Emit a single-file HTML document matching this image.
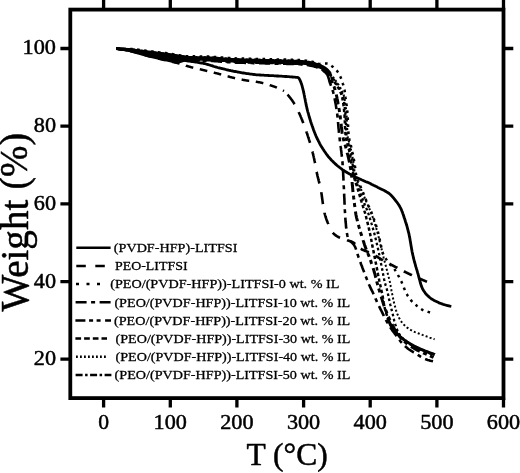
<!DOCTYPE html>
<html><head><meta charset="utf-8"><title>TGA curves</title>
<style>
html,body{margin:0;padding:0;background:#fff;}
body{width:520px;height:473px;overflow:hidden;}
svg{display:block;}
text{font-family:"Liberation Serif","Times New Roman",serif;fill:#000;stroke:#000;stroke-linejoin:round;}
.tick{stroke-width:0.5px;}
.leg{stroke-width:0.28px;}
.ax{stroke-width:0.5px;}
</style></head><body>
<svg width="520" height="473" viewBox="0 0 520 473">
<rect x="0" y="0" width="520" height="473" fill="#fff"/>

<rect x="70.3" y="9.6" width="433.2" height="388.5" fill="none" stroke="#000" stroke-width="3.8"/>
<path d="M103.6,398.1 V407.6 M103.6,9.6 V0 M170.3,398.1 V407.6 M170.3,9.6 V0 M236.9,398.1 V407.6 M236.9,9.6 V0 M303.6,398.1 V407.6 M303.6,9.6 V0 M370.2,398.1 V407.6 M370.2,9.6 V0 M436.9,398.1 V407.6 M436.9,9.6 V0 M503.5,398.1 V407.6 M503.5,9.6 V0 M70.3,359.2 H60.4 M503.5,359.2 H513.3 M70.3,281.6 H60.4 M503.5,281.6 H513.3 M70.3,203.9 H60.4 M503.5,203.9 H513.3 M70.3,126.2 H60.4 M503.5,126.2 H513.3 M70.3,48.5 H60.4 M503.5,48.5 H513.3" stroke="#000" stroke-width="3.3" fill="none"/>
<text class="tick" transform="translate(98.22,429.00) scale(0.9954,1)" font-size="21.7">0</text>
<text class="tick" transform="translate(153.62,429.00) scale(1.0230,1)" font-size="21.7">100</text>
<text class="tick" transform="translate(220.27,429.00) scale(1.0230,1)" font-size="21.7">200</text>
<text class="tick" transform="translate(286.91,429.00) scale(1.0230,1)" font-size="21.7">300</text>
<text class="tick" transform="translate(353.56,429.00) scale(1.0230,1)" font-size="21.7">400</text>
<text class="tick" transform="translate(420.20,429.00) scale(1.0230,1)" font-size="21.7">500</text>
<text class="tick" transform="translate(486.85,429.00) scale(1.0230,1)" font-size="21.7">600</text>
<text class="tick" transform="translate(33.80,365.25) scale(1.0230,1)" font-size="21.7">20</text>
<text class="tick" transform="translate(33.80,287.55) scale(1.0230,1)" font-size="21.7">40</text>
<text class="tick" transform="translate(33.80,209.85) scale(1.0230,1)" font-size="21.7">60</text>
<text class="tick" transform="translate(33.80,132.15) scale(1.0230,1)" font-size="21.7">80</text>
<text class="tick" transform="translate(22.60,54.45) scale(1.0261,1)" font-size="21.7">100</text>
<text class="ax" transform="translate(246.50,465.30) scale(0.9854,1)" font-size="32">T (°C)</text>
<text class="ax" transform="translate(27.6,311.60) rotate(-90) scale(0.9629,1)" font-size="40.6">Weight</text>
<text class="ax" transform="translate(27.2,189.60) rotate(-90) scale(0.9294,1)" font-size="40.6">(%)</text>
<g fill="none" stroke="#000" stroke-linejoin="round">
<path d="M116,47.6 L129,48.1 L148.5,50.4 L167.7,52.7 L177,54.2 L187,55.8 L187,61 L177.3,64 L167.7,61.8 L148.5,57.5 L129,51.9 L116,49.8 Z" fill="#000" stroke="none"/>
<path d="M177.0,57.0 L178.3,57.2 L179.6,57.4 L180.9,57.7 L182.2,57.8 L183.4,58.0 L184.7,58.2 L186.0,58.3 L187.3,58.3 L188.6,58.3 L189.9,58.4 L191.2,58.4 L192.5,58.4 L193.8,58.4 L195.1,58.5 L196.4,58.5 L197.7,58.5 L199.0,58.5 L200.4,58.5 L201.7,58.5 L203.0,58.5 L204.3,58.6 L205.6,58.6 L206.9,58.6 L208.2,58.7 L209.5,58.7 L210.8,58.8 L212.1,58.8 L213.4,58.9 L214.7,59.0 L216.0,59.1 L217.3,59.2 L218.6,59.3 L219.9,59.4 L221.2,59.5 L222.5,59.6 L223.8,59.7 L225.1,59.8 L226.4,59.9 L227.7,60.0 L229.0,60.1 L230.3,60.1 L231.6,60.2 L232.9,60.3 L234.2,60.4 L235.5,60.4 L236.8,60.5 L238.1,60.5 L239.4,60.6 L240.7,60.6 L242.0,60.7 L243.3,60.7 L244.6,60.7 L245.9,60.8 L247.2,60.8 L248.5,60.9 L249.8,60.9 L251.1,60.9 L252.4,61.0 L253.7,61.0 L255.0,61.0 L256.3,61.0 L257.6,61.1 L258.9,61.1 L260.2,61.1 L261.5,61.2 L262.8,61.2 L264.1,61.2 L265.4,61.2 L266.7,61.3 L268.0,61.3 L269.3,61.3 L270.6,61.4 L271.9,61.4 L273.2,61.4 L274.5,61.5 L275.8,61.5 L277.1,61.5 L278.4,61.6 L279.7,61.6 L281.0,61.6 L282.3,61.7 L283.6,61.7 L284.9,61.7 L286.2,61.8 L287.5,61.8 L288.8,61.8 L290.1,61.8 L291.4,61.9 L292.7,61.9 L294.0,62.0 L295.3,62.0 L296.6,62.0 L297.9,62.1 L299.2,62.2 L300.5,62.2 L301.8,62.3 L303.1,62.4 L304.4,62.6 L305.7,62.7 L307.0,62.9 L308.3,63.1 L309.6,63.4 L310.9,63.6 L312.1,63.8 L313.4,64.1 L314.7,64.5 L315.9,64.9 L317.2,65.3 L318.4,65.8 L319.6,66.2 L320.8,66.7 L322.0,67.3 L323.2,67.9 L324.3,68.5 L325.3,69.3 L326.3,70.1 L327.2,71.0 L328.1,72.0 L329.0,73.0" stroke-width="4.6" stroke-linecap="round"/>
<path d="M116.2,48.6 L117.4,48.7 L118.6,48.9 L119.8,49.0 L121.0,49.2 L122.2,49.3 L123.3,49.5 L124.5,49.6 L125.7,49.8 L126.9,50.0 L128.1,50.2 L129.3,50.3 L130.5,50.5 L131.6,50.7 L132.8,50.9 L134.0,51.2 L135.2,51.4 L136.4,51.6 L137.5,51.8 L138.7,52.1 L139.9,52.3 L141.1,52.5 L142.3,52.8 L143.4,53.0 L144.6,53.2 L145.8,53.5 L147.0,53.7 L148.1,53.9 L149.3,54.2 L150.5,54.4 L151.7,54.6 L152.9,54.8 L154.0,55.1 L155.2,55.3 L156.4,55.5 L157.6,55.8 L158.7,56.0 L159.9,56.2 L161.1,56.5 L162.3,56.7 L163.5,56.9 L164.6,57.1 L165.8,57.4 L167.0,57.6 L168.2,57.8 L169.4,58.0 L170.5,58.2 L171.7,58.4 L172.9,58.6 L174.1,58.8 L175.3,59.0 L176.5,59.2 L177.7,59.3 L178.8,59.5 L180.0,59.7 L181.2,59.9 L182.4,60.1 L183.6,60.3 L184.8,60.4 L186.0,60.6 L187.1,60.8 L188.3,61.0 L189.5,61.2 L190.7,61.4 L191.9,61.5 L193.1,61.7 L194.3,61.9 L195.5,62.0 L196.7,62.2 L197.8,62.4 L199.0,62.6 L200.2,62.8 L201.4,63.0 L202.6,63.2 L203.7,63.5 L204.9,63.7 L206.0,64.0 L207.2,64.3 L208.4,64.7 L209.5,65.0 L210.7,65.4 L211.8,65.7 L213.0,66.1 L214.1,66.5 L215.3,66.8 L216.4,67.1 L217.6,67.5 L218.7,67.8 L219.9,68.0 L221.1,68.3 L222.2,68.6 L223.4,68.9 L224.6,69.2 L225.7,69.5 L226.9,69.8 L228.1,70.0 L229.2,70.3 L230.4,70.5 L231.6,70.8 L232.8,71.0 L233.9,71.3 L235.1,71.5 L236.3,71.7 L237.5,72.0 L238.6,72.2 L239.8,72.4 L241.0,72.6 L242.2,72.8 L243.4,73.0 L244.6,73.2 L245.7,73.4 L246.9,73.6 L248.1,73.7 L249.3,73.9 L250.5,74.1 L251.7,74.2 L252.9,74.4 L254.1,74.5 L255.3,74.6 L256.5,74.8 L257.7,74.9 L258.8,74.9 L260.0,75.0 L261.2,75.1 L262.4,75.2 L263.6,75.2 L264.8,75.3 L266.0,75.4 L267.2,75.4 L268.4,75.5 L269.6,75.6 L270.8,75.6 L272.0,75.7 L273.2,75.7 L274.4,75.8 L275.6,75.9 L276.8,76.0 L278.0,76.0 L279.2,76.1 L280.4,76.2 L281.6,76.2 L282.8,76.3 L284.0,76.4 L285.2,76.5 L286.4,76.5 L287.6,76.6 L288.8,76.7 L290.0,76.8 L291.2,76.9 L292.4,77.0 L293.6,77.1 L294.8,77.2 L296.0,77.3 L297.3,77.4 L298.3,77.6 L299.1,78.5 L299.7,79.6 L300.2,80.7 L300.7,81.8 L301.1,82.9 L301.5,84.1 L301.9,85.2 L302.2,86.4 L302.5,87.5 L302.8,88.7 L303.1,89.8 L303.4,91.0 L303.6,92.2 L303.9,93.3 L304.1,94.5 L304.4,95.7 L304.6,96.9 L304.8,98.1 L305.1,99.2 L305.3,100.4 L305.5,101.6 L305.8,102.8 L306.0,104.0 L306.2,105.2 L306.5,106.3 L306.8,107.5 L307.0,108.7 L307.3,109.8 L307.6,111.0 L307.9,112.1 L308.3,113.3 L308.6,114.5 L308.9,115.6 L309.2,116.8 L309.6,117.9 L309.9,119.1 L310.3,120.2 L310.6,121.4 L311.0,122.5 L311.4,123.7 L311.8,124.8 L312.2,126.0 L312.6,127.1 L313.0,128.2 L313.4,129.4 L313.8,130.5 L314.2,131.6 L314.7,132.7 L315.1,133.8 L315.6,134.9 L316.0,136.0 L316.5,137.1 L317.0,138.2 L317.5,139.3 L318.1,140.3 L318.6,141.4 L319.2,142.5 L319.7,143.6 L320.3,144.7 L320.9,145.7 L321.5,146.8 L322.2,147.8 L322.8,148.8 L323.5,149.8 L324.1,150.8 L324.8,151.8 L325.5,152.8 L326.2,153.8 L326.9,154.7 L327.6,155.6 L328.3,156.6 L329.1,157.5 L329.9,158.4 L330.7,159.3 L331.5,160.2 L332.4,161.0 L333.2,161.9 L334.1,162.7 L335.0,163.6 L335.9,164.4 L336.8,165.2 L337.7,166.0 L338.6,166.7 L339.6,167.5 L340.5,168.2 L341.5,168.9 L342.4,169.6 L343.4,170.3 L344.4,170.9 L345.4,171.6 L346.5,172.2 L347.5,172.8 L348.6,173.4 L349.6,174.0 L350.7,174.6 L351.8,175.1 L352.8,175.7 L353.9,176.2 L355.0,176.8 L356.0,177.3 L357.1,177.8 L358.2,178.3 L359.3,178.8 L360.4,179.3 L361.5,179.8 L362.6,180.2 L363.7,180.7 L364.8,181.2 L365.9,181.7 L367.0,182.1 L368.1,182.6 L369.2,183.1 L370.3,183.6 L371.4,184.2 L372.5,184.7 L373.5,185.2 L374.6,185.7 L375.7,186.3 L376.8,186.8 L377.8,187.4 L378.9,187.9 L379.9,188.5 L381.0,189.0 L382.1,189.6 L383.2,190.1 L384.3,190.6 L385.4,191.2 L386.4,191.8 L387.5,192.4 L388.4,193.0 L389.4,193.7 L390.3,194.5 L391.1,195.3 L392.0,196.2 L392.8,197.1 L393.6,198.0 L394.3,199.0 L395.1,199.9 L395.8,200.8 L396.6,201.8 L397.3,202.8 L398.0,203.8 L398.7,204.8 L399.3,205.8 L399.9,206.8 L400.5,207.9 L401.0,208.9 L401.5,210.0 L401.9,211.1 L402.4,212.2 L402.8,213.4 L403.2,214.5 L403.6,215.7 L403.9,216.8 L404.3,217.9 L404.7,219.1 L405.1,220.2 L405.4,221.4 L405.8,222.5 L406.2,223.7 L406.5,224.8 L406.9,226.0 L407.2,227.1 L407.5,228.3 L407.8,229.4 L408.1,230.6 L408.4,231.8 L408.7,232.9 L409.0,234.1 L409.2,235.3 L409.4,236.4 L409.7,237.6 L409.9,238.8 L410.1,240.0 L410.3,241.2 L410.5,242.3 L410.7,243.5 L410.9,244.7 L411.1,245.9 L411.3,247.1 L411.5,248.3 L411.7,249.5 L411.9,250.6 L412.1,251.8 L412.4,253.0 L412.6,254.2 L412.9,255.3 L413.2,256.5 L413.4,257.7 L413.7,258.8 L414.0,260.0 L414.3,261.1 L414.6,262.3 L415.0,263.5 L415.3,264.6 L415.6,265.8 L415.9,266.9 L416.3,268.1 L416.6,269.2 L417.0,270.4 L417.3,271.5 L417.6,272.7 L418.0,273.8 L418.3,275.0 L418.6,276.2 L418.9,277.3 L419.2,278.5 L419.6,279.7 L419.9,280.9 L420.2,282.1 L420.5,283.3 L420.9,284.4 L421.2,285.6 L421.6,286.7 L422.1,287.7 L422.5,288.8 L423.1,289.8 L423.7,290.8 L424.4,291.8 L425.1,292.8 L425.9,293.8 L426.7,294.7 L427.6,295.6 L428.5,296.4 L429.4,297.2 L430.3,298.0 L431.2,298.7 L432.2,299.3 L433.2,299.9 L434.2,300.5 L435.3,301.1 L436.4,301.6 L437.5,302.1 L438.6,302.6 L439.8,303.1 L440.9,303.5 L442.0,303.9 L443.1,304.3 L444.3,304.7 L445.4,305.0 L446.6,305.3 L447.7,305.6 L448.9,305.9 L450.1,306.2 L451.3,306.4" stroke-width="2.8"/>
<path d="M116.2,48.6 L116.6,48.7 L117.1,48.7 L117.5,48.8 L117.9,48.8 L118.4,48.9 L118.8,49.0 L119.2,49.0 L119.6,49.1 L120.1,49.2 L120.5,49.2 L120.9,49.3 L121.4,49.4 L121.8,49.5 L122.2,49.5 L122.7,49.6 L123.1,49.7 L123.5,49.7 L123.9,49.8 L124.4,49.9 L124.8,50.0 L125.2,50.1 L125.6,50.1 L126.1,50.2 L126.5,50.3 L126.9,50.4 L127.3,50.5 L127.8,50.6 L128.2,50.6 L128.6,50.7 L129.0,50.8 L129.5,50.9 L129.9,51.0 L130.3,51.1 L130.7,51.2 L131.2,51.3 L131.6,51.4 L132.0,51.5 L132.4,51.6 L132.9,51.7 L133.3,51.8 L133.7,51.9 L134.1,52.0 L134.5,52.1 L135.0,52.2 L135.4,52.3 L135.8,52.4 L136.2,52.6 L136.6,52.7 L137.1,52.8 L137.5,52.9 L137.9,53.0 L138.3,53.1 L138.7,53.3 L139.1,53.4 L139.6,53.5 L140.0,53.6 L140.4,53.7 L140.8,53.9 L141.2,54.0 L141.7,54.1 L142.1,54.2 L142.5,54.3 L142.9,54.5 L143.3,54.6 L143.7,54.7 L144.2,54.8 L144.6,54.9 L145.0,55.1 L145.4,55.2 L145.8,55.3 L146.3,55.4 L146.7,55.5 L147.1,55.6 L147.5,55.7 L147.9,55.9 L148.4,56.0 L148.8,56.1 L149.2,56.2 L149.6,56.3 L150.0,56.4 L150.5,56.5 L150.9,56.6 L151.3,56.7 L151.7,56.8 L152.1,56.9 L152.6,57.0 L153.0,57.2 L153.4,57.3 L153.8,57.4 L154.3,57.5 L154.7,57.6 L155.1,57.7 L155.5,57.8 L155.9,57.9 L156.4,58.0 L156.8,58.1 L157.2,58.2 L157.6,58.3 L158.0,58.4 L158.5,58.5 L158.9,58.6 L159.3,58.8 L159.7,58.9 L160.2,59.0 L160.6,59.1 L161.0,59.2 L161.4,59.3 L161.8,59.4 L162.3,59.5 L162.7,59.6 L163.1,59.7 L163.5,59.8 L164.0,59.9 L164.4,60.0 L164.8,60.1 L165.2,60.2 L165.6,60.3 L166.1,60.4 L166.5,60.5 L166.9,60.6 L167.3,60.7 L167.8,60.8 L168.2,60.9 L168.6,61.0 L169.0,61.1 L169.4,61.2 L169.9,61.3 L170.3,61.4 L170.7,61.5 L171.1,61.6 L171.6,61.7 L172.0,61.8 L172.4,61.9 L172.8,61.9 L173.3,62.0 L173.7,62.1 L174.1,62.2 L174.5,62.3 L175.0,62.4 L175.4,62.5 L175.8,62.6 L176.2,62.7 L176.7,62.8 L177.1,62.9 L177.5,63.1 L177.9,63.2 L178.3,63.3 L178.7,63.4 L179.2,63.5 L179.6,63.6 L180.0,63.8 L180.4,63.9 L180.8,64.0 L181.2,64.2 L181.7,64.3 L182.1,64.4 L182.5,64.6 L182.9,64.7 L183.3,64.8 L183.7,65.0 L184.1,65.1 L184.6,65.2 L185.0,65.4 L185.4,65.5 L185.8,65.6 L186.2,65.8 L186.6,65.9 L187.0,66.0 L187.5,66.1 L187.9,66.3 L188.3,66.4 L188.7,66.5 L189.1,66.6 L189.5,66.7 L190.0,66.8 L190.4,67.0 L190.8,67.1 L191.2,67.2 L191.6,67.3 L192.1,67.4 L192.5,67.5 L192.9,67.6 L193.3,67.7 L193.8,67.8 L194.2,67.9 L194.6,68.0 L195.0,68.1 L195.4,68.2 L195.9,68.3 L196.3,68.4 L196.7,68.5 L197.1,68.6 L197.6,68.7 L198.0,68.8 L198.4,68.9 L198.8,69.0 L199.3,69.1 L199.7,69.2 L200.1,69.3 L200.5,69.4 L200.9,69.5 L201.4,69.6 L201.8,69.7 L202.2,69.8 L202.6,69.9 L203.1,70.0 L203.5,70.1 L203.9,70.2 L204.3,70.3 L204.7,70.4 L205.2,70.5 L205.6,70.6 L206.0,70.7 L206.4,70.8 L206.9,70.9 L207.3,71.0 L207.7,71.1 L208.1,71.2 L208.6,71.3 L209.0,71.4 L209.4,71.5 L209.8,71.7 L210.2,71.8 L210.7,71.9 L211.1,72.0 L211.5,72.1 L211.9,72.2 L212.4,72.3 L212.8,72.4 L213.2,72.5 L213.6,72.6 L214.0,72.7 L214.5,72.8 L214.9,72.9 L215.3,73.0 L215.7,73.1 L216.1,73.2 L216.6,73.3 L217.0,73.4 L217.4,73.5 L217.8,73.6 L218.3,73.7 L218.7,73.8 L219.1,74.0 L219.5,74.1 L219.9,74.2 L220.4,74.3 L220.8,74.4 L221.2,74.5 L221.6,74.6 L222.0,74.8 L222.5,74.9 L222.9,75.0 L223.3,75.1 L223.7,75.2 L224.1,75.3 L224.5,75.5 L225.0,75.6 L225.4,75.7 L225.8,75.8 L226.2,75.9 L226.6,76.0 L227.1,76.2 L227.5,76.3 L227.9,76.4 L228.3,76.5 L228.7,76.6 L229.2,76.7 L229.6,76.8 L230.0,77.0 L230.4,77.1 L230.8,77.2 L231.3,77.3 L231.7,77.4 L232.1,77.5 L232.5,77.6 L232.9,77.7 L233.4,77.8 L233.8,77.9 L234.2,78.0 L234.6,78.1 L235.1,78.2 L235.5,78.3 L235.9,78.4 L236.3,78.5 L236.8,78.5 L237.2,78.6 L237.6,78.7 L238.0,78.8 L238.5,78.9 L238.9,79.0 L239.3,79.1 L239.7,79.2 L240.2,79.3 L240.6,79.4 L241.0,79.4 L241.4,79.5 L241.9,79.6 L242.3,79.7 L242.7,79.8 L243.1,79.9 L243.6,79.9 L244.0,80.0 L244.4,80.1 L244.9,80.2 L245.3,80.3 L245.7,80.3 L246.1,80.4 L246.6,80.5 L247.0,80.5 L247.4,80.6 L247.9,80.7 L248.3,80.8 L248.7,80.8 L249.1,80.9 L249.6,80.9 L250.0,81.0 L250.4,81.0 L250.9,81.1 L251.3,81.2 L251.7,81.2 L252.2,81.3 L252.6,81.3 L253.0,81.4 L253.5,81.4 L253.9,81.5 L254.3,81.5 L254.8,81.6 L255.2,81.6 L255.6,81.7 L256.1,81.8 L256.5,81.8 L256.9,81.9 L257.3,82.0 L257.8,82.0 L258.2,82.1 L258.6,82.2 L259.0,82.2 L259.5,82.3 L259.9,82.4 L260.3,82.5 L260.7,82.6 L261.2,82.7 L261.6,82.8 L262.0,82.9 L262.4,83.0 L262.9,83.1 L263.3,83.2 L263.7,83.3 L264.1,83.4 L264.5,83.5 L265.0,83.6 L265.4,83.8 L265.8,83.9 L266.2,84.0 L266.6,84.1 L267.1,84.3 L267.5,84.4 L267.9,84.5 L268.3,84.6 L268.7,84.8 L269.1,84.9 L269.6,85.0 L270.0,85.2 L270.4,85.3 L270.8,85.4 L271.2,85.6 L271.6,85.7 L272.0,85.9 L272.4,86.0 L272.8,86.1 L273.3,86.3 L273.7,86.4 L274.1,86.6 L274.5,86.7 L274.9,86.9 L275.3,87.0 L275.7,87.2 L276.1,87.3 L276.5,87.5 L276.9,87.7 L277.3,87.8 L277.7,88.0 L278.1,88.2 L278.5,88.4 L278.9,88.5 L279.3,88.7 L279.7,88.9 L280.1,89.1 L280.5,89.3 L280.9,89.4 L281.3,89.6 L281.7,89.8 L282.0,90.0 L282.4,90.2 L282.8,90.4 L283.2,90.6 L283.6,90.8 L284.0,91.0" stroke-width="2.5" stroke-dasharray="7.7 6.7"/>
<path d="M284.0,91.0 L284.3,91.3 L284.5,91.5 L284.8,91.8 L285.1,92.0 L285.3,92.3 L285.6,92.6 L285.9,92.8 L286.1,93.1 L286.4,93.4 L286.6,93.6 L286.9,93.9 L287.1,94.2 L287.4,94.5 L287.6,94.7 L287.9,95.0 L288.1,95.3 L288.4,95.6 L288.6,95.9 L288.8,96.1 L289.1,96.4 L289.3,96.7 L289.5,97.0 L289.8,97.3 L290.0,97.6 L290.2,97.8 L290.5,98.1 L290.7,98.4 L290.9,98.7 L291.1,99.0 L291.3,99.3 L291.6,99.6 L291.8,99.9 L292.0,100.2 L292.2,100.5 L292.4,100.8 L292.6,101.1 L292.8,101.4 L293.0,101.7 L293.2,102.0 L293.4,102.3 L293.6,102.6 L293.8,102.9 L294.0,103.2 L294.2,103.5 L294.3,103.9 L294.5,104.2 L294.7,104.5 L294.9,104.8 L295.1,105.1 L295.3,105.5 L295.5,105.8 L295.6,106.1 L295.8,106.4 L296.0,106.8 L296.2,107.1 L296.3,107.4 L296.5,107.7 L296.7,108.1 L296.9,108.4 L297.0,108.7 L297.2,109.1 L297.4,109.4 L297.5,109.7 L297.7,110.0 L297.9,110.4 L298.0,110.7 L298.2,111.0 L298.3,111.4 L298.5,111.7 L298.7,112.0 L298.8,112.4 L299.0,112.7 L299.1,113.0 L299.3,113.4 L299.4,113.7 L299.6,114.0 L299.7,114.4 L299.9,114.7 L300.0,115.0 L300.2,115.4 L300.3,115.7 L300.5,116.0 L300.6,116.4 L300.8,116.7 L300.9,117.1 L301.0,117.4 L301.2,117.7 L301.3,118.1 L301.5,118.4 L301.6,118.8 L301.7,119.1 L301.9,119.5 L302.0,119.8 L302.1,120.1 L302.3,120.5 L302.4,120.8 L302.5,121.2 L302.7,121.5 L302.8,121.9 L302.9,122.2 L303.1,122.6 L303.2,122.9 L303.3,123.2 L303.4,123.6 L303.6,123.9 L303.7,124.3 L303.8,124.6 L304.0,125.0 L304.1,125.3 L304.2,125.7 L304.3,126.0 L304.5,126.4 L304.6,126.7 L304.7,127.0 L304.8,127.4 L305.0,127.7 L305.1,128.1 L305.2,128.4 L305.3,128.8 L305.5,129.1 L305.6,129.5 L305.7,129.8 L305.8,130.2 L306.0,130.5 L306.1,130.9 L306.2,131.2 L306.3,131.6 L306.5,131.9 L306.6,132.2 L306.7,132.6 L306.8,132.9 L306.9,133.3 L307.1,133.6 L307.2,134.0 L307.3,134.3 L307.4,134.7 L307.5,135.0 L307.7,135.4 L307.8,135.7 L307.9,136.1 L308.0,136.4 L308.1,136.8 L308.2,137.1 L308.3,137.5 L308.5,137.8 L308.6,138.2 L308.7,138.5 L308.8,138.9 L308.9,139.2 L309.0,139.6 L309.1,139.9 L309.2,140.3 L309.3,140.6 L309.5,141.0 L309.6,141.3 L309.7,141.7 L309.8,142.0 L309.9,142.4 L310.0,142.8 L310.1,143.1 L310.2,143.5 L310.3,143.8 L310.4,144.2 L310.5,144.5 L310.6,144.9 L310.7,145.2 L310.8,145.6 L310.9,145.9 L311.0,146.3 L311.1,146.6 L311.2,147.0 L311.3,147.4 L311.4,147.7 L311.5,148.1 L311.6,148.4 L311.7,148.8 L311.8,149.1 L311.9,149.5 L312.0,149.8 L312.0,150.2 L312.1,150.6 L312.2,150.9 L312.3,151.3 L312.4,151.6 L312.5,152.0 L312.6,152.3 L312.7,152.7 L312.8,153.1 L312.9,153.4 L313.0,153.8 L313.0,154.1 L313.1,154.5 L313.2,154.8 L313.3,155.2 L313.4,155.6 L313.5,155.9 L313.6,156.3 L313.6,156.6 L313.7,157.0 L313.8,157.4 L313.9,157.7 L314.0,158.1 L314.1,158.4 L314.1,158.8 L314.2,159.1 L314.3,159.5 L314.4,159.9 L314.4,160.2 L314.5,160.6 L314.6,160.9 L314.7,161.3 L314.7,161.7 L314.8,162.0 L314.9,162.4 L315.0,162.7 L315.0,163.1 L315.1,163.5 L315.2,163.8 L315.2,164.2 L315.3,164.6 L315.4,164.9 L315.4,165.3 L315.5,165.6 L315.6,166.0 L315.6,166.4 L315.7,166.7 L315.7,167.1 L315.8,167.5 L315.9,167.8 L315.9,168.2 L316.0,168.5 L316.1,168.9 L316.1,169.3 L316.2,169.6 L316.3,170.0 L316.3,170.4 L316.4,170.7 L316.5,171.1 L316.5,171.4 L316.6,171.8 L316.7,172.2 L316.8,172.5 L316.8,172.9 L316.9,173.2 L317.0,173.6 L317.1,174.0 L317.1,174.3 L317.2,174.7 L317.3,175.0 L317.4,175.4 L317.5,175.8 L317.6,176.1 L317.6,176.5 L317.7,176.8 L317.8,177.2 L317.9,177.5 L318.0,177.9 L318.1,178.3 L318.2,178.6 L318.3,179.0 L318.4,179.3 L318.5,179.7 L318.6,180.0 L318.6,180.4 L318.7,180.8 L318.8,181.1 L318.9,181.5 L319.0,181.8 L319.1,182.2 L319.2,182.5 L319.3,182.9 L319.4,183.3 L319.5,183.6 L319.6,184.0 L319.7,184.3 L319.7,184.7 L319.8,185.0 L319.9,185.4 L320.0,185.8 L320.1,186.1 L320.2,186.5 L320.2,186.8 L320.3,187.2 L320.4,187.5 L320.5,187.9 L320.6,188.3 L320.6,188.6 L320.7,189.0 L320.8,189.3 L320.8,189.7 L320.9,190.1 L321.0,190.4 L321.0,190.8 L321.1,191.2 L321.1,191.5 L321.2,191.9 L321.3,192.3 L321.3,192.6 L321.4,193.0 L321.4,193.3 L321.5,193.7 L321.6,194.1 L321.6,194.4 L321.7,194.8 L321.7,195.2 L321.8,195.5 L321.8,195.9 L321.9,196.3 L321.9,196.6 L322.0,197.0 L322.0,197.4 L322.1,197.7 L322.1,198.1 L322.2,198.5 L322.2,198.8 L322.3,199.2 L322.3,199.6 L322.4,199.9 L322.4,200.3 L322.5,200.7 L322.5,201.0 L322.6,201.4 L322.6,201.8 L322.7,202.1 L322.7,202.5 L322.8,202.9 L322.8,203.2 L322.9,203.6 L322.9,204.0 L323.0,204.3 L323.0,204.7 L323.1,205.1 L323.1,205.4 L323.2,205.8 L323.3,206.2 L323.3,206.5 L323.4,206.9 L323.4,207.2 L323.5,207.6 L323.6,208.0 L323.6,208.3 L323.7,208.7 L323.7,209.0 L323.8,209.4 L323.9,209.8 L323.9,210.1 L324.0,210.5 L324.1,210.8 L324.2,211.2 L324.2,211.6 L324.3,211.9 L324.4,212.3 L324.5,212.6 L324.5,213.0 L324.6,213.3 L324.7,213.7 L324.8,214.0 L324.9,214.4 L325.0,214.7 L325.1,215.1 L325.2,215.4 L325.3,215.8 L325.4,216.1 L325.5,216.5 L325.6,216.8 L325.7,217.2 L325.8,217.5 L325.9,217.9 L326.1,218.2 L326.2,218.6 L326.3,218.9 L326.4,219.3 L326.5,219.6 L326.7,220.0 L326.8,220.3 L326.9,220.7 L327.1,221.0 L327.2,221.3 L327.3,221.7 L327.5,222.0 L327.6,222.4 L327.8,222.7 L327.9,223.1 L328.0,223.4 L328.2,223.7 L328.3,224.1 L328.5,224.4 L328.6,224.8 L328.8,225.1 L328.9,225.4 L329.1,225.8 L329.2,226.1 L329.4,226.5 L329.5,226.8 L329.7,227.1 L329.8,227.5 L330.0,227.8 L330.1,228.2 L330.3,228.5" stroke-width="2.6" stroke-dasharray="0 5 12 4"/>
<path d="M330.3,228.5 L330.4,228.8 L330.5,229.1 L330.7,229.3 L330.8,229.6 L330.9,229.9 L331.1,230.1 L331.2,230.4 L331.4,230.7 L331.5,230.9 L331.7,231.2 L331.8,231.4 L332.0,231.6 L332.2,231.9 L332.3,232.1 L332.5,232.3 L332.7,232.6 L332.9,232.8 L333.0,233.0 L333.2,233.2 L333.4,233.4 L333.6,233.6 L333.8,233.8 L334.0,234.0 L334.2,234.2 L334.4,234.4 L334.6,234.5 L334.9,234.7 L335.1,234.9 L335.3,235.1 L335.6,235.3 L335.8,235.4 L336.1,235.6 L336.3,235.8 L336.5,235.9 L336.8,236.1 L337.1,236.2 L337.3,236.4 L337.6,236.5 L337.8,236.7 L338.1,236.8 L338.3,237.0 L338.6,237.1 L338.9,237.2 L339.1,237.4 L339.4,237.5 L339.6,237.6 L339.9,237.7 L340.2,237.8 L340.4,237.9 L340.7,238.0 L341.0,238.1 L341.2,238.2 L341.5,238.3 L341.8,238.4 L342.1,238.5 L342.3,238.6 L342.6,238.7 L342.9,238.8 L343.2,238.9 L343.4,239.0 L343.7,239.1 L344.0,239.2 L344.3,239.3 L344.5,239.4 L344.8,239.5 L345.1,239.6 L345.4,239.7 L345.7,239.8 L345.9,239.9 L346.2,239.9 L346.5,240.0 L346.8,240.1 L347.1,240.2 L347.3,240.3 L347.6,240.4 L347.9,240.5 L348.2,240.5 L348.5,240.6 L348.8,240.7 L349.0,240.8 L349.3,240.9 L349.6,241.0 L349.9,241.1 L350.1,241.2 L350.4,241.3 L350.7,241.4 L351.0,241.5 L351.2,241.6 L351.5,241.7 L351.8,241.8 L352.0,241.9 L352.3,242.0 L352.5,242.1 L352.8,242.2 L353.0,242.4 L353.3,242.5 L353.5,242.6 L353.8,242.8 L354.0,242.9 L354.2,243.1 L354.4,243.3 L354.7,243.4 L354.9,243.6 L355.1,243.8 L355.3,244.0 L355.6,244.2 L355.8,244.4 L356.0,244.6 L356.2,244.8 L356.4,245.0 L356.6,245.2 L356.8,245.4 L357.1,245.6 L357.3,245.8 L357.5,246.0 L357.7,246.2 L357.9,246.5 L358.1,246.7 L358.3,246.9 L358.6,247.1 L358.8,247.3 L359.0,247.5 L359.2,247.6 L359.4,247.8 L359.7,248.0 L359.9,248.2 L360.1,248.4 L360.4,248.5 L360.6,248.7 L360.8,248.8 L361.1,249.0 L361.3,249.1 L361.6,249.2 L361.8,249.4 L362.1,249.5 L362.3,249.6 L362.6,249.8 L362.9,249.9 L363.1,250.0 L363.4,250.1 L363.6,250.2 L363.9,250.3 L364.2,250.5 L364.4,250.6 L364.7,250.7 L365.0,250.8 L365.2,250.9 L365.5,251.0 L365.8,251.1 L366.1,251.2 L366.3,251.3 L366.6,251.4 L366.9,251.5 L367.2,251.6 L367.4,251.7 L367.7,251.9 L368.0,252.0 L368.3,252.1 L368.5,252.2 L368.8,252.3 L369.1,252.4 L369.3,252.5 L369.6,252.6 L369.9,252.7 L370.1,252.9 L370.4,253.0 L370.7,253.1 L370.9,253.2 L371.2,253.3 L371.5,253.5 L371.7,253.6 L372.0,253.7 L372.2,253.9 L372.5,254.0 L372.7,254.1 L373.0,254.3 L373.2,254.4 L373.5,254.6 L373.7,254.7 L374.0,254.9 L374.2,255.0 L374.5,255.1 L374.7,255.3 L375.0,255.4 L375.2,255.6 L375.5,255.7 L375.7,255.9 L376.0,256.0 L376.2,256.2 L376.5,256.3 L376.7,256.5 L377.0,256.6 L377.2,256.8 L377.5,257.0 L377.7,257.1 L378.0,257.3 L378.2,257.4 L378.5,257.6 L378.7,257.7 L378.9,257.9 L379.2,258.0 L379.4,258.2 L379.7,258.3 L379.9,258.5 L380.2,258.6 L380.4,258.8 L380.7,258.9 L380.9,259.1 L381.2,259.2 L381.4,259.4 L381.7,259.5 L381.9,259.7 L382.2,259.8 L382.4,260.0 L382.7,260.1 L382.9,260.2 L383.2,260.4 L383.4,260.5 L383.7,260.7 L383.9,260.8 L384.2,260.9 L384.5,261.1 L384.7,261.2 L385.0,261.4 L385.2,261.5 L385.5,261.6 L385.7,261.8 L386.0,261.9 L386.2,262.1 L386.5,262.2 L386.7,262.3 L387.0,262.5 L387.3,262.6 L387.5,262.8 L387.8,262.9 L388.0,263.0 L388.3,263.2 L388.5,263.3 L388.8,263.4 L389.0,263.6 L389.3,263.7 L389.6,263.8 L389.8,264.0 L390.1,264.1 L390.3,264.3 L390.6,264.4 L390.8,264.5 L391.1,264.7 L391.3,264.8 L391.6,264.9 L391.9,265.1 L392.1,265.2 L392.4,265.3 L392.6,265.5 L392.9,265.6 L393.1,265.7 L393.4,265.9 L393.7,266.0 L393.9,266.1 L394.2,266.3 L394.4,266.4 L394.7,266.5 L394.9,266.7 L395.2,266.8 L395.5,266.9 L395.7,267.1 L396.0,267.2 L396.2,267.3 L396.5,267.5 L396.7,267.6 L397.0,267.7 L397.3,267.9 L397.5,268.0 L397.8,268.1 L398.0,268.3 L398.3,268.4 L398.5,268.5 L398.8,268.7 L399.1,268.8 L399.3,268.9 L399.6,269.1 L399.8,269.2 L400.1,269.3 L400.3,269.5 L400.6,269.6 L400.9,269.7 L401.1,269.9 L401.4,270.0 L401.6,270.1 L401.9,270.3 L402.2,270.4 L402.4,270.5 L402.7,270.7 L402.9,270.8 L403.2,270.9 L403.4,271.1 L403.7,271.2 L404.0,271.3 L404.2,271.5 L404.5,271.6 L404.7,271.7 L405.0,271.9 L405.3,272.0 L405.5,272.1 L405.8,272.2 L406.0,272.4 L406.3,272.5 L406.6,272.6 L406.8,272.8 L407.1,272.9 L407.3,273.0 L407.6,273.1 L407.9,273.3 L408.1,273.4 L408.4,273.5 L408.6,273.6 L408.9,273.8 L409.2,273.9 L409.4,274.0 L409.7,274.1 L409.9,274.3 L410.2,274.4 L410.5,274.5 L410.7,274.6 L411.0,274.8 L411.2,274.9 L411.5,275.0 L411.8,275.1 L412.0,275.2 L412.3,275.4 L412.6,275.5 L412.8,275.6 L413.1,275.7 L413.4,275.9 L413.6,276.0 L413.9,276.1 L414.1,276.2 L414.4,276.3 L414.7,276.5 L414.9,276.6 L415.2,276.7 L415.5,276.8 L415.7,276.9 L416.0,277.0 L416.3,277.2 L416.5,277.3 L416.8,277.4 L417.0,277.5 L417.3,277.6 L417.6,277.8 L417.8,277.9 L418.1,278.0 L418.4,278.1 L418.6,278.2 L418.9,278.3 L419.2,278.4 L419.4,278.6 L419.7,278.7 L420.0,278.8 L420.2,278.9 L420.5,279.0 L420.8,279.1 L421.0,279.3 L421.3,279.4 L421.6,279.5 L421.8,279.6 L422.1,279.7 L422.4,279.8 L422.6,279.9 L422.9,280.0 L423.2,280.2 L423.4,280.3 L423.7,280.4 L424.0,280.5 L424.2,280.6 L424.5,280.7 L424.8,280.8 L425.0,280.9 L425.3,281.0 L425.6,281.2 L425.8,281.3 L426.1,281.4 L426.4,281.5 L426.7,281.6 L426.9,281.7 L427.2,281.8 L427.5,281.9 L427.7,282.0 L428.0,282.1 L428.3,282.2 L428.5,282.4 L428.8,282.5 L429.1,282.6 L429.3,282.7 L429.6,282.8 L429.9,282.9 L430.2,283.0 L430.4,283.1 L430.7,283.2" stroke-width="2.6" stroke-dasharray="0 5 9 2.5"/>
<path d="M116.2,48.6 L117.4,48.6 L118.7,48.6 L119.9,48.6 L121.2,48.7 L122.4,48.7 L123.7,48.7 L124.9,48.8 L126.1,48.8 L127.4,48.9 L128.6,48.9 L129.9,49.0 L131.1,49.0 L132.3,49.1 L133.6,49.2 L134.8,49.4 L136.0,49.5 L137.3,49.6 L138.5,49.8 L139.7,50.0 L141.0,50.1 L142.2,50.3 L143.4,50.4 L144.7,50.6 L145.9,50.8 L147.1,50.9 L148.4,51.1 L149.6,51.2 L150.9,51.4 L152.1,51.5 L153.3,51.6 L154.6,51.8 L155.8,51.9 L157.0,52.1 L158.3,52.2 L159.5,52.4 L160.7,52.5 L162.0,52.6 L163.2,52.8 L164.4,53.0 L165.7,53.1 L166.9,53.3 L168.1,53.5 L169.3,53.6 L170.6,53.8 L171.8,54.1 L173.0,54.3 L174.3,54.5 L175.5,54.7 L176.7,54.9 L177.9,55.0 L179.2,55.2 L180.4,55.4 L181.6,55.6 L182.9,55.8 L184.1,56.0 L185.3,56.1 L186.6,56.2 L187.8,56.2 L189.0,56.3 L190.3,56.3 L191.5,56.3 L192.8,56.3 L194.0,56.3 L195.2,56.4 L196.5,56.4 L197.7,56.4 L199.0,56.4 L200.2,56.4 L201.5,56.4 L202.7,56.4 L204.0,56.5 L205.2,56.5 L206.4,56.5 L207.7,56.5 L208.9,56.6 L210.2,56.7 L211.4,56.7 L212.6,56.8 L213.9,56.9 L215.1,56.9 L216.4,57.0 L217.6,57.1 L218.8,57.2 L220.1,57.3 L221.3,57.4 L222.6,57.5 L223.8,57.6 L225.0,57.7 L226.3,57.8 L227.5,57.9 L228.8,57.9 L230.0,58.0 L231.2,58.1 L232.5,58.2 L233.7,58.3 L235.0,58.3 L236.2,58.4 L237.4,58.4 L238.7,58.5 L239.9,58.5 L241.2,58.5 L242.4,58.6 L243.7,58.6 L244.9,58.7 L246.1,58.7 L247.4,58.7 L248.6,58.8 L249.9,58.8 L251.1,58.8 L252.3,58.9 L253.6,58.9 L254.8,58.9 L256.1,58.9 L257.3,59.0 L258.6,59.0 L259.8,59.0 L261.0,59.1 L262.3,59.1 L263.5,59.1 L264.8,59.1 L266.0,59.2 L267.3,59.2 L268.5,59.2 L269.7,59.2 L271.0,59.3 L272.2,59.3 L273.5,59.3 L274.7,59.4 L276.0,59.4 L277.2,59.4 L278.4,59.5 L279.7,59.5 L280.9,59.5 L282.2,59.6 L283.4,59.6 L284.7,59.6 L285.9,59.6 L287.1,59.7 L288.4,59.7 L289.6,59.7 L290.9,59.8 L292.1,59.8 L293.4,59.8 L294.6,59.9 L295.8,59.9 L297.1,60.0 L298.3,60.0 L299.6,60.1 L300.8,60.1 L302.0,60.2 L303.3,60.4 L304.5,60.5 L305.8,60.7 L307.0,60.8 L308.2,61.0 L309.4,61.2 L310.7,61.4 L311.9,61.7 L313.1,62.0 L314.3,62.4 L315.4,62.9 L316.6,63.4 L317.8,63.8 L319.0,63.9 L320.2,63.9 L321.5,63.8 L322.8,63.7 L324.0,63.6 L325.3,63.6 L326.5,63.5 L327.6,63.6 L328.8,64.0 L329.9,64.6 L331.0,65.4 L332.0,66.2 L333.0,66.9 L333.9,67.7 L334.9,68.5 L335.8,69.4 L336.6,70.4 L337.4,71.3 L338.0,72.3 L338.7,73.4 L339.3,74.5 L339.8,75.6 L340.4,76.8 L340.9,77.9 L341.3,79.1 L341.8,80.2 L342.2,81.4 L342.6,82.6 L342.9,83.8 L343.3,85.0 L343.6,86.2 L343.9,87.4 L344.2,88.6 L344.5,89.8 L344.7,91.0 L344.9,92.2 L345.0,93.5 L345.2,94.7 L345.4,95.9 L345.5,97.2 L345.7,98.4 L345.8,99.6 L346.0,100.9 L346.2,102.1 L346.3,103.3 L346.5,104.6 L346.7,105.8 L346.8,107.0 L347.0,108.3 L347.1,109.5 L347.2,110.7 L347.3,112.0 L347.5,113.2 L347.6,114.5 L347.6,115.7 L347.7,116.9 L347.8,118.2 L347.8,119.4 L347.9,120.7 L348.0,121.9 L348.0,123.2 L348.0,124.4 L348.1,125.6 L348.1,126.9 L348.2,128.1 L348.2,129.4 L348.3,130.6 L348.4,131.9 L348.5,133.1 L348.5,134.3 L348.7,135.5 L348.8,136.8 L349.0,138.0 L349.3,139.2 L349.5,140.4 L349.8,141.6 L350.2,142.8 L350.5,144.0 L350.8,145.2 L351.1,146.4 L351.5,147.7 L351.8,148.9 L352.0,150.1 L352.3,151.3 L352.5,152.5 L352.8,153.7 L353.0,155.0 L353.2,156.2 L353.5,157.4 L353.7,158.6 L353.9,159.8 L354.1,161.1 L354.4,162.3 L354.6,163.5 L354.8,164.7 L354.9,166.0 L355.1,167.2 L355.3,168.4 L355.4,169.7 L355.6,170.9 L355.7,172.2 L355.9,173.4 L356.1,174.6 L356.4,175.8 L356.7,177.0 L357.0,178.1 L357.4,179.3 L357.9,180.5 L358.4,181.6 L358.8,182.8 L359.4,183.9 L359.9,185.1 L360.4,186.2 L360.9,187.4 L361.4,188.5 L361.9,189.7 L362.3,190.8 L362.8,192.0 L363.2,193.1 L363.7,194.3 L364.2,195.5 L364.6,196.6 L365.1,197.8 L365.6,198.9 L366.0,200.1 L366.5,201.2 L367.0,202.3 L367.5,203.5 L368.0,204.6 L368.5,205.8 L369.0,206.9 L369.5,208.0 L370.0,209.2 L370.5,210.3 L371.0,211.5 L371.5,212.6 L371.9,213.8 L372.3,214.9 L372.8,216.1 L373.2,217.2 L373.6,218.4 L374.1,219.6 L374.5,220.8 L374.9,221.9 L375.3,223.1 L375.7,224.3 L376.1,225.5 L376.4,226.7 L376.8,227.9 L377.1,229.0 L377.5,230.2 L377.8,231.4 L378.1,232.6 L378.4,233.8 L378.7,235.1 L379.0,236.3 L379.3,237.5 L379.5,238.7 L379.8,239.9 L380.1,241.1 L380.4,242.3 L380.6,243.5 L380.9,244.8 L381.1,246.0 L381.3,247.2 L381.6,248.5 L381.9,249.7 L382.2,250.9 L382.5,252.0 L382.9,253.2 L383.4,254.3 L383.9,255.4 L384.5,256.6 L385.1,257.7 L385.8,258.7 L386.5,259.8 L387.2,260.8 L387.9,261.8 L388.6,262.8 L389.5,263.7 L390.4,264.6 L391.3,265.5 L392.2,266.4 L393.0,267.3 L393.8,268.2 L394.5,269.2 L395.2,270.3 L395.8,271.3 L396.5,272.4 L397.1,273.5 L397.7,274.6 L398.3,275.7 L398.9,276.7 L399.5,277.8 L400.1,278.9 L400.6,280.1 L401.2,281.2 L401.7,282.3 L402.2,283.4 L402.7,284.6 L403.2,285.7 L403.6,286.9 L404.0,288.1 L404.5,289.2 L404.9,290.4 L405.4,291.5 L405.9,292.6 L406.5,293.7 L407.2,294.8 L407.8,295.9 L408.5,296.9 L409.2,297.9 L409.9,298.9 L410.7,299.9 L411.5,300.9 L412.4,301.8 L413.2,302.7 L414.1,303.5 L415.1,304.3 L416.0,305.1 L417.0,305.9 L418.0,306.6 L419.0,307.4 L420.0,308.1 L421.0,308.9 L422.1,309.6 L423.1,310.2 L424.3,310.7 L425.4,311.1 L426.6,311.4 L427.8,311.8 L429.0,312.1 L430.2,312.5 L431.4,313.0 L432.5,313.4 L433.7,313.8" stroke-width="2.5" stroke-dasharray="2.6 4.4"/>
<path d="M116.2,48.6 L117.5,48.7 L118.9,48.9 L120.2,49.0 L121.5,49.2 L122.9,49.4 L124.2,49.6 L125.5,49.8 L126.9,49.9 L128.2,50.2 L129.5,50.4 L130.8,50.6 L132.1,50.9 L133.5,51.1 L134.8,51.4 L136.1,51.7 L137.4,52.0 L138.7,52.3 L140.0,52.6 L141.3,52.9 L142.6,53.3 L143.9,53.6 L145.2,53.8 L146.6,54.1 L147.9,54.4 L149.2,54.6 L150.5,54.9 L151.8,55.1 L153.2,55.3 L154.5,55.5 L155.8,55.7 L157.1,56.0 L158.5,56.2 L159.8,56.4 L161.1,56.6 L162.4,56.8 L163.8,57.0 L165.1,57.2 L166.4,57.4 L167.8,57.6 L169.1,57.8 L170.4,58.0 L171.7,58.3 L173.0,58.5 L174.4,58.7 L175.7,58.9 L177.0,59.1 L178.4,59.3 L179.7,59.5 L181.0,59.7 L182.3,59.9 L183.7,60.1 L185.0,60.3 L186.3,60.4 L187.7,60.4 L189.0,60.5 L190.4,60.5 L191.7,60.5 L193.0,60.5 L194.4,60.5 L195.7,60.6 L197.1,60.6 L198.4,60.6 L199.8,60.6 L201.1,60.6 L202.5,60.6 L203.8,60.7 L205.1,60.7 L206.5,60.7 L207.8,60.8 L209.2,60.8 L210.5,60.9 L211.8,60.9 L213.2,61.0 L214.5,61.1 L215.9,61.2 L217.2,61.3 L218.5,61.4 L219.9,61.5 L221.2,61.6 L222.6,61.7 L223.9,61.8 L225.2,61.9 L226.6,62.0 L227.9,62.1 L229.3,62.2 L230.6,62.3 L231.9,62.4 L233.3,62.4 L234.6,62.5 L236.0,62.6 L237.3,62.6 L238.6,62.7 L240.0,62.7 L241.3,62.7 L242.7,62.8 L244.0,62.8 L245.3,62.9 L246.7,62.9 L248.0,62.9 L249.4,63.0 L250.7,63.0 L252.1,63.0 L253.4,63.1 L254.7,63.1 L256.1,63.1 L257.4,63.2 L258.8,63.2 L260.1,63.2 L261.5,63.3 L262.8,63.3 L264.1,63.3 L265.5,63.4 L266.8,63.4 L268.2,63.4 L269.5,63.4 L270.9,63.5 L272.2,63.5 L273.5,63.5 L274.9,63.6 L276.2,63.6 L277.6,63.6 L278.9,63.7 L280.2,63.7 L281.6,63.7 L282.9,63.8 L284.3,63.8 L285.6,63.8 L287.0,63.9 L288.3,63.9 L289.7,63.9 L291.0,64.0 L292.3,64.0 L293.7,64.0 L295.0,64.1 L296.4,64.1 L297.7,64.2 L299.0,64.3 L300.4,64.3 L301.7,64.4 L303.1,64.5 L304.4,64.7 L305.7,64.8 L307.1,65.0 L308.4,65.2 L309.7,65.5 L311.0,65.7 L312.3,66.0 L313.6,66.3 L314.9,66.7 L316.2,67.1 L317.5,67.5 L318.7,68.0 L320.0,68.5 L321.2,69.1 L322.4,69.7 L323.4,70.5 L324.4,71.5 L325.4,72.4 L326.3,73.4 L327.1,74.5 L327.8,75.6 L328.2,76.8 L328.6,78.1 L329.0,79.4 L329.3,80.8 L329.7,82.1 L330.1,83.4 L330.6,84.6 L331.1,85.9 L331.6,87.1 L332.1,88.4 L332.5,89.6 L332.8,90.9 L333.2,92.2 L333.5,93.5 L333.8,94.8 L334.1,96.2 L334.4,97.5 L334.7,98.8 L334.9,100.1 L335.2,101.4 L335.4,102.7 L335.7,104.1 L335.9,105.4 L336.1,106.7 L336.3,108.0 L336.5,109.4 L336.7,110.7 L336.9,112.0 L337.1,113.4 L337.3,114.7 L337.4,116.0 L337.6,117.4 L337.7,118.7 L337.8,120.0 L338.0,121.4 L338.1,122.7 L338.2,124.0 L338.3,125.4 L338.4,126.7 L338.5,128.1 L338.7,129.4 L338.8,130.7 L338.9,132.1 L339.0,133.4 L339.2,134.7 L339.3,136.1 L339.5,137.4 L339.7,138.7 L339.8,140.1 L340.0,141.4 L340.2,142.7 L340.4,144.1 L340.6,145.4 L340.7,146.7 L340.9,148.1 L341.0,149.4 L341.2,150.7 L341.4,152.1 L341.5,153.4 L341.7,154.7 L341.8,156.1 L342.0,157.4 L342.1,158.7 L342.2,160.1 L342.4,161.4 L342.5,162.7 L342.6,164.1 L342.7,165.4 L342.8,166.8 L342.9,168.1 L343.0,169.4 L343.0,170.8 L343.1,172.1 L343.2,173.4 L343.2,174.8 L343.3,176.1 L343.4,177.5 L343.4,178.8 L343.5,180.2 L343.6,181.5 L343.6,182.8 L343.7,184.2 L343.7,185.5 L343.8,186.9 L343.9,188.2 L343.9,189.5 L344.0,190.9 L344.1,192.2 L344.1,193.6 L344.2,194.9 L344.2,196.3 L344.3,197.6 L344.4,198.9 L344.4,200.3 L344.5,201.6 L344.5,203.0 L344.6,204.3 L344.6,205.7 L344.7,207.0 L344.8,208.3 L344.8,209.7 L344.9,211.0 L345.0,212.4 L345.1,213.7 L345.1,215.0 L345.2,216.4 L345.3,217.7 L345.4,219.0 L345.5,220.4 L345.6,221.8 L345.8,223.2 L345.9,224.5 L346.0,225.9 L346.1,227.3 L346.3,228.7 L346.5,230.1 L346.7,231.4 L346.9,232.8 L347.1,234.1 L347.3,235.3 L347.6,236.5 L347.9,237.7 L348.3,238.8 L349.1,239.9 L350.0,240.9 L351.0,241.8 L352.1,242.8 L353.1,243.8 L354.0,244.8 L354.6,246.0 L355.2,247.1 L355.7,248.4 L356.1,249.6 L356.5,250.9 L356.9,252.2 L357.3,253.5 L357.7,254.8 L358.2,256.1 L358.6,257.4 L359.1,258.7 L359.5,259.9 L360.0,261.2 L360.5,262.5 L360.9,263.7 L361.4,265.0 L361.9,266.2 L362.3,267.5 L362.8,268.7 L363.3,270.0 L363.8,271.2 L364.3,272.5 L364.8,273.7 L365.2,275.0 L365.7,276.3 L366.2,277.5 L366.7,278.8 L367.2,280.0 L367.7,281.2 L368.2,282.5 L368.7,283.7 L369.2,285.0 L369.8,286.2 L370.3,287.4 L370.9,288.6 L371.5,289.8 L372.1,291.0 L372.7,292.2 L373.3,293.5 L373.8,294.7 L374.4,295.9 L374.9,297.1 L375.4,298.4 L376.0,299.6 L376.5,300.8 L377.0,302.1 L377.6,303.3 L378.2,304.5 L378.8,305.7 L379.4,306.9 L380.0,308.1 L380.6,309.3 L381.2,310.5 L381.8,311.7 L382.4,312.9 L383.0,314.1 L383.6,315.3 L384.1,316.5 L384.7,317.7 L385.4,318.9 L386.0,320.1 L386.7,321.3 L387.3,322.4 L388.0,323.6 L388.7,324.7 L389.4,325.9 L390.1,327.0 L390.8,328.2 L391.6,329.3 L392.3,330.4 L393.1,331.5 L393.9,332.5 L394.7,333.6 L395.6,334.7 L396.4,335.8 L397.2,336.8 L398.0,337.9 L398.8,339.0 L399.6,340.1 L400.4,341.2 L401.2,342.2 L402.1,343.2 L403.0,344.2 L404.0,345.1 L405.0,346.0 L406.0,347.0 L407.0,347.8 L408.0,348.7 L409.1,349.5 L410.2,350.2 L411.3,350.9 L412.5,351.6 L413.7,352.3 L414.9,352.9 L416.0,353.6 L417.2,354.3 L418.3,355.1 L419.4,355.8 L420.5,356.6 L421.7,357.3 L422.8,358.0 L424.0,358.5 L425.2,359.0 L426.5,359.5 L427.7,359.9 L429.0,360.3 L430.3,360.7 L431.7,361.0 L433.0,361.3" stroke-width="2.6" stroke-dasharray="11 4.5 4 4.5"/>
<path d="M116.2,48.6 L117.5,48.7 L118.8,48.8 L120.2,49.0 L121.5,49.1 L122.8,49.3 L124.1,49.4 L125.4,49.6 L126.8,49.7 L128.1,49.9 L129.4,50.1 L130.7,50.3 L132.0,50.5 L133.3,50.8 L134.6,51.0 L135.9,51.3 L137.2,51.6 L138.5,51.9 L139.8,52.1 L141.1,52.4 L142.4,52.7 L143.7,53.0 L145.0,53.3 L146.3,53.5 L147.6,53.8 L148.9,54.0 L150.2,54.2 L151.5,54.4 L152.8,54.7 L154.1,54.9 L155.5,55.1 L156.8,55.3 L158.1,55.5 L159.4,55.6 L160.7,55.8 L162.0,56.0 L163.3,56.2 L164.7,56.4 L166.0,56.6 L167.3,56.8 L168.6,57.0 L169.9,57.3 L171.2,57.5 L172.5,57.7 L173.8,57.9 L175.1,58.1 L176.4,58.3 L177.8,58.5 L179.1,58.7 L180.4,58.9 L181.7,59.1 L183.0,59.3 L184.3,59.5 L185.7,59.6 L187.0,59.7 L188.3,59.7 L189.6,59.8 L190.9,59.8 L192.3,59.8 L193.6,59.8 L194.9,59.8 L196.3,59.9 L197.6,59.9 L198.9,59.9 L200.2,59.9 L201.6,59.9 L202.9,59.9 L204.2,60.0 L205.6,60.0 L206.9,60.0 L208.2,60.1 L209.5,60.1 L210.9,60.2 L212.2,60.3 L213.5,60.3 L214.8,60.4 L216.2,60.5 L217.5,60.6 L218.8,60.7 L220.1,60.8 L221.4,60.9 L222.8,61.0 L224.1,61.1 L225.4,61.2 L226.7,61.3 L228.1,61.4 L229.4,61.5 L230.7,61.6 L232.0,61.7 L233.4,61.7 L234.7,61.8 L236.0,61.9 L237.3,61.9 L238.7,62.0 L240.0,62.0 L241.3,62.0 L242.6,62.1 L244.0,62.1 L245.3,62.2 L246.6,62.2 L248.0,62.2 L249.3,62.3 L250.6,62.3 L251.9,62.3 L253.3,62.4 L254.6,62.4 L255.9,62.4 L257.2,62.5 L258.6,62.5 L259.9,62.5 L261.2,62.6 L262.6,62.6 L263.9,62.6 L265.2,62.6 L266.5,62.7 L267.9,62.7 L269.2,62.7 L270.5,62.8 L271.8,62.8 L273.2,62.8 L274.5,62.9 L275.8,62.9 L277.1,62.9 L278.5,63.0 L279.8,63.0 L281.1,63.0 L282.5,63.1 L283.8,63.1 L285.1,63.1 L286.4,63.2 L287.8,63.2 L289.1,63.2 L290.4,63.3 L291.8,63.3 L293.1,63.3 L294.4,63.4 L295.7,63.4 L297.1,63.5 L298.4,63.5 L299.7,63.6 L301.0,63.7 L302.3,63.8 L303.7,63.9 L305.0,64.1 L306.3,64.2 L307.6,64.4 L309.0,64.6 L310.3,64.9 L311.6,65.1 L312.8,65.4 L314.1,65.7 L315.4,66.1 L316.7,66.5 L317.9,67.0 L319.2,67.5 L320.4,68.0 L321.5,68.7 L322.6,69.4 L323.6,70.3 L324.5,71.2 L325.5,72.2 L326.4,73.2 L327.2,74.3 L328.0,75.3 L328.8,76.4 L329.5,77.5 L330.2,78.6 L330.9,79.8 L331.5,81.0 L332.1,82.2 L332.6,83.4 L333.2,84.6 L333.7,85.8 L334.2,87.0 L334.6,88.3 L335.0,89.5 L335.4,90.8 L335.7,92.1 L336.0,93.4 L336.3,94.7 L336.6,96.0 L336.9,97.3 L337.1,98.6 L337.4,99.9 L337.6,101.2 L337.9,102.5 L338.1,103.8 L338.4,105.1 L338.6,106.4 L338.8,107.7 L339.1,109.0 L339.3,110.4 L339.5,111.7 L339.7,113.0 L339.9,114.3 L340.1,115.6 L340.3,116.9 L340.4,118.2 L340.6,119.6 L340.7,120.9 L340.9,122.2 L341.0,123.5 L341.2,124.8 L341.3,126.2 L341.5,127.5 L341.6,128.8 L341.8,130.1 L342.0,131.4 L342.1,132.7 L342.3,134.1 L342.6,135.4 L342.8,136.6 L343.1,137.9 L343.4,139.2 L343.8,140.5 L344.1,141.8 L344.5,143.1 L344.9,144.3 L345.3,145.6 L345.7,146.9 L346.0,148.2 L346.4,149.5 L346.7,150.7 L347.0,152.0 L347.3,153.3 L347.7,154.6 L348.0,155.9 L348.3,157.2 L348.6,158.5 L348.9,159.8 L349.2,161.1 L349.5,162.4 L349.7,163.7 L350.0,165.0 L350.2,166.3 L350.4,167.6 L350.7,168.9 L350.9,170.2 L351.1,171.5 L351.2,172.8 L351.4,174.1 L351.6,175.5 L351.7,176.8 L351.8,178.1 L351.9,179.4 L352.0,180.7 L352.1,182.1 L352.2,183.4 L352.3,184.7 L352.4,186.0 L352.6,187.4 L352.7,188.7 L352.8,190.0 L352.9,191.3 L353.1,192.6 L353.2,194.0 L353.4,195.3 L353.6,196.6 L353.7,197.9 L353.9,199.2 L354.1,200.5 L354.2,201.9 L354.4,203.2 L354.5,204.5 L354.7,205.8 L354.9,207.1 L355.0,208.5 L355.2,209.8 L355.4,211.1 L355.6,212.4 L355.8,213.7 L356.0,215.0 L356.3,216.3 L356.5,217.6 L356.9,218.9 L357.2,220.2 L357.5,221.5 L357.9,222.8 L358.2,224.0 L358.6,225.3 L358.9,226.6 L359.3,227.9 L359.7,229.2 L360.0,230.4 L360.4,231.7 L360.8,233.0 L361.2,234.2 L361.6,235.5 L362.0,236.8 L362.4,238.0 L362.8,239.3 L363.2,240.6 L363.6,241.8 L364.0,243.1 L364.4,244.4 L364.8,245.6 L365.3,246.9 L365.7,248.1 L366.2,249.3 L366.7,250.6 L367.2,251.8 L367.7,253.0 L368.2,254.3 L368.7,255.5 L369.2,256.7 L369.7,258.0 L370.1,259.2 L370.6,260.5 L371.0,261.7 L371.4,263.0 L371.9,264.2 L372.3,265.5 L372.7,266.8 L373.1,268.0 L373.5,269.3 L373.9,270.6 L374.2,271.8 L374.6,273.1 L375.0,274.4 L375.3,275.7 L375.6,277.0 L376.0,278.2 L376.3,279.5 L376.6,280.8 L376.9,282.1 L377.3,283.4 L377.6,284.7 L378.0,285.9 L378.4,287.2 L378.7,288.5 L379.1,289.8 L379.5,291.0 L379.9,292.3 L380.3,293.6 L380.7,294.8 L381.0,296.1 L381.4,297.4 L381.8,298.7 L382.2,299.9 L382.6,301.2 L383.0,302.5 L383.4,303.7 L383.8,305.0 L384.2,306.2 L384.7,307.5 L385.1,308.7 L385.6,310.0 L386.1,311.2 L386.6,312.4 L387.1,313.7 L387.6,314.9 L388.2,316.1 L388.7,317.3 L389.2,318.5 L389.8,319.7 L390.4,320.9 L390.9,322.1 L391.5,323.3 L392.1,324.5 L392.7,325.7 L393.4,326.9 L394.0,328.0 L394.7,329.2 L395.4,330.3 L396.1,331.5 L396.8,332.6 L397.5,333.7 L398.3,334.8 L399.1,335.8 L399.9,336.9 L400.7,337.9 L401.6,338.8 L402.6,339.8 L403.5,340.7 L404.5,341.6 L405.5,342.5 L406.5,343.4 L407.6,344.2 L408.6,345.0 L409.7,345.7 L410.8,346.4 L412.0,347.1 L413.1,347.8 L414.3,348.5 L415.4,349.1 L416.6,349.8 L417.8,350.4 L419.0,351.0 L420.2,351.6 L421.4,352.1 L422.6,352.6 L423.8,353.2 L425.0,353.7 L426.2,354.2 L427.5,354.8 L428.7,355.3 L429.9,355.9 L431.1,356.4 L432.3,356.9 L433.5,357.5" stroke-width="3.0" stroke-dasharray="10 3.7 4 3.5 4 4.5"/>
<path d="M116.2,48.6 L117.5,48.7 L118.9,48.8 L120.2,48.9 L121.5,49.0 L122.8,49.1 L124.2,49.2 L125.5,49.4 L126.8,49.5 L128.1,49.7 L129.5,49.8 L130.8,50.0 L132.1,50.2 L133.4,50.4 L134.7,50.6 L136.0,50.9 L137.3,51.1 L138.6,51.4 L139.9,51.6 L141.2,51.9 L142.6,52.1 L143.9,52.4 L145.2,52.6 L146.5,52.9 L147.8,53.1 L149.1,53.3 L150.4,53.5 L151.7,53.7 L153.1,53.9 L154.4,54.1 L155.7,54.3 L157.0,54.5 L158.3,54.6 L159.6,54.8 L161.0,55.0 L162.3,55.2 L163.6,55.4 L164.9,55.6 L166.2,55.8 L167.5,56.0 L168.9,56.2 L170.2,56.4 L171.5,56.6 L172.8,56.8 L174.1,57.1 L175.4,57.3 L176.7,57.5 L178.1,57.7 L179.4,57.9 L180.7,58.1 L182.0,58.3 L183.3,58.5 L184.7,58.6 L186.0,58.8 L187.3,58.8 L188.6,58.8 L190.0,58.9 L191.3,58.9 L192.6,58.9 L193.9,58.9 L195.3,59.0 L196.6,59.0 L197.9,59.0 L199.3,59.0 L200.6,59.0 L201.9,59.0 L203.3,59.0 L204.6,59.1 L205.9,59.1 L207.3,59.1 L208.6,59.2 L209.9,59.2 L211.2,59.3 L212.6,59.4 L213.9,59.5 L215.2,59.5 L216.6,59.6 L217.9,59.7 L219.2,59.8 L220.5,59.9 L221.9,60.0 L223.2,60.1 L224.5,60.2 L225.9,60.3 L227.2,60.4 L228.5,60.5 L229.8,60.6 L231.2,60.7 L232.5,60.8 L233.8,60.9 L235.2,60.9 L236.5,61.0 L237.8,61.0 L239.1,61.1 L240.5,61.1 L241.8,61.2 L243.1,61.2 L244.5,61.2 L245.8,61.3 L247.1,61.3 L248.4,61.4 L249.8,61.4 L251.1,61.4 L252.4,61.5 L253.8,61.5 L255.1,61.5 L256.4,61.6 L257.8,61.6 L259.1,61.6 L260.4,61.6 L261.8,61.7 L263.1,61.7 L264.4,61.7 L265.7,61.8 L267.1,61.8 L268.4,61.8 L269.7,61.8 L271.1,61.9 L272.4,61.9 L273.7,61.9 L275.1,62.0 L276.4,62.0 L277.7,62.0 L279.1,62.1 L280.4,62.1 L281.7,62.1 L283.0,62.2 L284.4,62.2 L285.7,62.2 L287.0,62.3 L288.4,62.3 L289.7,62.3 L291.0,62.4 L292.4,62.4 L293.7,62.4 L295.0,62.5 L296.4,62.5 L297.7,62.6 L299.0,62.7 L300.3,62.7 L301.7,62.8 L303.0,62.9 L304.3,63.1 L305.6,63.2 L307.0,63.4 L308.3,63.6 L309.6,63.9 L310.9,64.1 L312.2,64.3 L313.5,64.6 L314.8,65.0 L316.1,65.4 L317.3,65.8 L318.6,66.3 L319.8,66.8 L321.0,67.4 L322.1,68.1 L323.2,68.9 L324.2,69.7 L325.2,70.6 L326.2,71.5 L327.1,72.5 L328.0,73.5 L328.9,74.5 L329.7,75.6 L330.6,76.6 L331.4,77.6 L332.2,78.7 L333.0,79.8 L333.7,80.9 L334.5,82.0 L335.2,83.1 L336.0,84.2 L336.7,85.3 L337.5,86.4 L338.1,87.6 L338.8,88.7 L339.3,89.9 L339.9,91.1 L340.5,92.3 L341.0,93.6 L341.5,94.8 L341.9,96.1 L342.2,97.4 L342.4,98.6 L342.7,99.9 L342.9,101.2 L343.1,102.6 L343.3,103.9 L343.5,105.2 L343.7,106.5 L343.8,107.9 L344.0,109.2 L344.1,110.5 L344.2,111.9 L344.4,113.2 L344.5,114.5 L344.6,115.8 L344.6,117.2 L344.7,118.5 L344.8,119.8 L344.8,121.2 L344.9,122.5 L344.9,123.8 L345.0,125.2 L345.0,126.5 L345.1,127.8 L345.1,129.2 L345.2,130.5 L345.3,131.8 L345.4,133.1 L345.5,134.5 L345.6,135.8 L345.8,137.1 L346.0,138.4 L346.3,139.7 L346.6,141.0 L347.0,142.3 L347.3,143.6 L347.7,144.8 L348.1,146.1 L348.4,147.4 L348.7,148.7 L349.0,150.0 L349.3,151.3 L349.5,152.6 L349.8,153.9 L350.0,155.3 L350.2,156.6 L350.5,157.9 L350.7,159.2 L350.9,160.5 L351.1,161.8 L351.4,163.1 L351.6,164.4 L351.8,165.7 L352.1,167.1 L352.3,168.4 L352.5,169.7 L352.7,171.0 L353.0,172.3 L353.2,173.6 L353.5,174.9 L353.8,176.2 L354.1,177.5 L354.5,178.8 L354.8,180.0 L355.2,181.3 L355.6,182.6 L356.0,183.9 L356.5,185.1 L356.9,186.4 L357.3,187.7 L357.7,188.9 L358.1,190.2 L358.4,191.5 L358.8,192.8 L359.2,194.0 L359.6,195.3 L360.0,196.6 L360.4,197.9 L360.7,199.1 L361.1,200.4 L361.5,201.7 L361.9,202.9 L362.3,204.2 L362.7,205.5 L363.1,206.8 L363.5,208.0 L363.9,209.3 L364.3,210.6 L364.7,211.8 L365.1,213.1 L365.4,214.4 L365.8,215.7 L366.1,217.0 L366.4,218.3 L366.8,219.5 L367.1,220.8 L367.4,222.1 L367.7,223.4 L368.0,224.7 L368.4,226.0 L368.7,227.3 L368.9,228.6 L369.2,229.9 L369.5,231.2 L369.8,232.5 L370.1,233.8 L370.3,235.1 L370.6,236.4 L370.9,237.7 L371.1,239.0 L371.4,240.3 L371.6,241.6 L371.8,243.0 L372.1,244.3 L372.3,245.6 L372.6,246.9 L372.8,248.2 L373.1,249.5 L373.4,250.8 L373.6,252.1 L373.9,253.4 L374.1,254.7 L374.4,256.0 L374.7,257.3 L374.9,258.6 L375.2,259.9 L375.4,261.2 L375.7,262.5 L376.0,263.8 L376.2,265.2 L376.5,266.5 L376.8,267.8 L377.0,269.1 L377.3,270.4 L377.5,271.7 L377.8,273.0 L378.0,274.3 L378.3,275.6 L378.6,276.9 L378.8,278.2 L379.1,279.5 L379.3,280.8 L379.6,282.1 L379.9,283.4 L380.2,284.7 L380.5,286.0 L380.7,287.3 L381.0,288.6 L381.3,289.9 L381.6,291.2 L381.9,292.5 L382.2,293.8 L382.4,295.1 L382.7,296.4 L382.9,297.7 L383.1,299.1 L383.3,300.4 L383.5,301.7 L383.7,303.0 L384.0,304.3 L384.2,305.6 L384.5,306.9 L384.8,308.2 L385.1,309.5 L385.5,310.8 L385.9,312.1 L386.3,313.3 L386.7,314.6 L387.1,315.9 L387.5,317.1 L388.0,318.4 L388.5,319.6 L388.9,320.9 L389.4,322.1 L390.0,323.4 L390.5,324.6 L391.1,325.8 L391.7,326.9 L392.4,328.0 L393.2,329.1 L394.0,330.2 L394.9,331.2 L395.8,332.2 L396.7,333.2 L397.6,334.1 L398.6,335.0 L399.5,336.0 L400.5,336.8 L401.5,337.7 L402.6,338.6 L403.6,339.4 L404.7,340.2 L405.8,341.0 L406.9,341.7 L408.0,342.5 L409.1,343.2 L410.2,343.9 L411.4,344.5 L412.5,345.2 L413.7,345.8 L414.9,346.4 L416.1,347.0 L417.3,347.6 L418.5,348.2 L419.7,348.7 L420.9,349.2 L422.2,349.8 L423.4,350.3 L424.6,350.8 L425.9,351.2 L427.1,351.7 L428.4,352.2 L429.6,352.7 L430.8,353.2 L432.1,353.6 L433.3,354.1 L434.6,354.5" stroke-width="2.5" stroke-dasharray="3.4 2.4"/>
<path d="M388.0,318.0 L388.0,318.2 L388.1,318.3 L388.1,318.5 L388.2,318.6 L388.2,318.8 L388.2,318.9 L388.3,319.1 L388.3,319.2 L388.4,319.4 L388.4,319.5 L388.5,319.7 L388.5,319.8 L388.6,320.0 L388.6,320.1 L388.7,320.3 L388.7,320.4 L388.8,320.6 L388.8,320.7 L388.9,320.9 L388.9,321.0 L389.0,321.2 L389.0,321.3 L389.1,321.5 L389.1,321.6 L389.2,321.7 L389.2,321.9 L389.3,322.0 L389.4,322.2 L389.4,322.3 L389.5,322.5 L389.5,322.6 L389.6,322.8 L389.7,322.9 L389.7,323.0 L389.8,323.2 L389.8,323.3 L389.9,323.5 L390.0,323.6 L390.0,323.7 L390.1,323.9 L390.2,324.0 L390.2,324.2 L390.3,324.3 L390.3,324.4 L390.4,324.6 L390.5,324.7 L390.5,324.9 L390.6,325.0 L390.7,325.1 L390.8,325.3 L390.8,325.4 L390.9,325.5 L391.0,325.7 L391.0,325.8 L391.1,325.9 L391.2,326.1 L391.2,326.2 L391.3,326.3 L391.4,326.5 L391.5,326.6 L391.5,326.7 L391.6,326.9 L391.7,327.0 L391.7,327.1 L391.8,327.2 L391.9,327.4 L392.0,327.5 L392.1,327.6 L392.1,327.8 L392.2,327.9 L392.3,328.0 L392.4,328.1 L392.5,328.3 L392.6,328.4 L392.7,328.5 L392.7,328.7 L392.8,328.8 L392.9,328.9 L393.0,329.0 L393.1,329.2 L393.2,329.3 L393.3,329.4 L393.4,329.5 L393.5,329.7 L393.6,329.8 L393.7,329.9 L393.8,330.0 L393.9,330.2 L394.0,330.3 L394.1,330.4 L394.2,330.5 L394.3,330.6 L394.4,330.8 L394.5,330.9 L394.6,331.0 L394.7,331.1 L394.8,331.2 L394.9,331.4 L395.0,331.5 L395.1,331.6 L395.2,331.7 L395.3,331.8 L395.4,332.0 L395.5,332.1 L395.6,332.2 L395.7,332.3 L395.8,332.4 L395.9,332.5 L396.0,332.6 L396.1,332.8 L396.2,332.9 L396.3,333.0 L396.4,333.1 L396.5,333.2 L396.7,333.3 L396.8,333.4 L396.9,333.5 L397.0,333.7 L397.1,333.8 L397.2,333.9 L397.3,334.0 L397.4,334.1 L397.5,334.2 L397.6,334.3 L397.7,334.4 L397.8,334.5 L397.9,334.6 L398.0,334.7 L398.2,334.9 L398.3,335.0 L398.4,335.1 L398.5,335.2 L398.6,335.3 L398.7,335.4 L398.8,335.5 L398.9,335.6 L399.0,335.7 L399.2,335.8 L399.3,335.9 L399.4,336.0 L399.5,336.1 L399.6,336.2 L399.7,336.3 L399.9,336.4 L400.0,336.5 L400.1,336.6 L400.2,336.7 L400.3,336.8 L400.4,336.9 L400.6,337.0 L400.7,337.1 L400.8,337.2 L400.9,337.3 L401.0,337.4 L401.2,337.5 L401.3,337.6 L401.4,337.7 L401.5,337.8 L401.6,337.9 L401.8,338.0 L401.9,338.1 L402.0,338.2 L402.1,338.3 L402.3,338.4 L402.4,338.5 L402.5,338.6 L402.6,338.7 L402.7,338.8 L402.9,338.9 L403.0,339.0 L403.1,339.1 L403.2,339.2 L403.4,339.2 L403.5,339.3 L403.6,339.4 L403.7,339.5 L403.9,339.6 L404.0,339.7 L404.1,339.8 L404.2,339.9 L404.4,340.0 L404.5,340.1 L404.6,340.2 L404.7,340.3 L404.9,340.3 L405.0,340.4 L405.1,340.5 L405.2,340.6 L405.4,340.7 L405.5,340.8 L405.6,340.9 L405.7,341.0 L405.9,341.1 L406.0,341.1 L406.1,341.2 L406.3,341.3 L406.4,341.4 L406.5,341.5 L406.6,341.6 L406.8,341.7 L406.9,341.7 L407.0,341.8 L407.1,341.9 L407.3,342.0 L407.4,342.1 L407.5,342.2 L407.7,342.2 L407.8,342.3 L407.9,342.4 L408.0,342.5 L408.2,342.6 L408.3,342.7 L408.4,342.8 L408.6,342.8 L408.7,342.9 L408.8,343.0 L409.0,343.1 L409.1,343.2 L409.2,343.2 L409.4,343.3 L409.5,343.4 L409.6,343.5 L409.8,343.6 L409.9,343.6 L410.0,343.7 L410.2,343.8 L410.3,343.9 L410.4,344.0 L410.6,344.0 L410.7,344.1 L410.8,344.2 L411.0,344.3 L411.1,344.4 L411.2,344.4 L411.4,344.5 L411.5,344.6 L411.6,344.7 L411.8,344.7 L411.9,344.8 L412.0,344.9 L412.2,345.0 L412.3,345.1 L412.4,345.1 L412.6,345.2 L412.7,345.3 L412.8,345.4 L413.0,345.4 L413.1,345.5 L413.3,345.6 L413.4,345.6 L413.5,345.7 L413.7,345.8 L413.8,345.9 L413.9,345.9 L414.1,346.0 L414.2,346.1 L414.3,346.2 L414.5,346.2 L414.6,346.3 L414.8,346.4 L414.9,346.4 L415.0,346.5 L415.2,346.6 L415.3,346.7 L415.4,346.7 L415.6,346.8 L415.7,346.9 L415.9,346.9 L416.0,347.0 L416.1,347.1 L416.3,347.1 L416.4,347.2 L416.5,347.3 L416.7,347.3 L416.8,347.4 L417.0,347.5 L417.1,347.5 L417.2,347.6 L417.4,347.7 L417.5,347.7 L417.7,347.8 L417.8,347.9 L417.9,347.9 L418.1,348.0 L418.2,348.1 L418.4,348.1 L418.5,348.2 L418.6,348.2 L418.8,348.3 L418.9,348.4 L419.1,348.4 L419.2,348.5 L419.3,348.6 L419.5,348.6 L419.6,348.7 L419.8,348.7 L419.9,348.8 L420.0,348.9 L420.2,348.9 L420.3,349.0 L420.5,349.1 L420.6,349.1 L420.8,349.2 L420.9,349.2 L421.0,349.3 L421.2,349.4 L421.3,349.4 L421.5,349.5 L421.6,349.5 L421.8,349.6 L421.9,349.6 L422.0,349.7 L422.2,349.8 L422.3,349.8 L422.5,349.9 L422.6,349.9 L422.8,350.0 L422.9,350.1 L423.0,350.1 L423.2,350.2 L423.3,350.2 L423.5,350.3 L423.6,350.4 L423.8,350.4 L423.9,350.5 L424.0,350.5 L424.2,350.6 L424.3,350.6 L424.5,350.7 L424.6,350.8 L424.8,350.8 L424.9,350.9 L425.1,350.9 L425.2,351.0 L425.3,351.0 L425.5,351.1 L425.6,351.2 L425.8,351.2 L425.9,351.3 L426.1,351.3 L426.2,351.4 L426.4,351.4 L426.5,351.5 L426.6,351.5 L426.8,351.6 L426.9,351.7 L427.1,351.7 L427.2,351.8 L427.4,351.8 L427.5,351.9 L427.6,351.9 L427.8,352.0 L427.9,352.1 L428.1,352.1 L428.2,352.2 L428.4,352.2 L428.5,352.3 L428.7,352.3 L428.8,352.4 L428.9,352.4 L429.1,352.5 L429.2,352.6 L429.4,352.6 L429.5,352.7 L429.7,352.7 L429.8,352.8 L430.0,352.8 L430.1,352.9 L430.2,352.9 L430.4,353.0 L430.5,353.0 L430.7,353.1 L430.8,353.1 L431.0,353.2 L431.1,353.3 L431.3,353.3 L431.4,353.4 L431.5,353.4 L431.7,353.5 L431.8,353.5 L432.0,353.6 L432.1,353.6 L432.3,353.7 L432.4,353.7 L432.6,353.8 L432.7,353.8 L432.9,353.9 L433.0,353.9 L433.1,354.0 L433.3,354.0 L433.4,354.1 L433.6,354.1 L433.7,354.2 L433.9,354.2 L434.0,354.3 L434.2,354.3 L434.3,354.4 L434.5,354.4 L434.6,354.5" stroke-width="3.0"/>
<path d="M116.2,48.6 L117.5,48.6 L118.9,48.7 L120.2,48.8 L121.5,48.9 L122.8,48.9 L124.2,49.0 L125.5,49.1 L126.8,49.2 L128.1,49.4 L129.5,49.5 L130.8,49.6 L132.1,49.8 L133.4,49.9 L134.7,50.1 L136.0,50.3 L137.4,50.6 L138.7,50.8 L140.0,51.0 L141.3,51.2 L142.6,51.4 L143.9,51.7 L145.2,51.9 L146.5,52.1 L147.9,52.3 L149.2,52.5 L150.5,52.7 L151.8,52.9 L153.1,53.0 L154.4,53.2 L155.8,53.4 L157.1,53.6 L158.4,53.7 L159.7,53.9 L161.0,54.1 L162.4,54.2 L163.7,54.4 L165.0,54.6 L166.3,54.8 L167.6,55.0 L168.9,55.2 L170.2,55.4 L171.6,55.6 L172.9,55.8 L174.2,56.1 L175.5,56.3 L176.8,56.5 L178.1,56.7 L179.4,56.9 L180.7,57.1 L182.1,57.3 L183.4,57.5 L184.7,57.6 L186.0,57.8 L187.3,57.8 L188.7,57.8 L190.0,57.9 L191.3,57.9 L192.7,57.9 L194.0,57.9 L195.3,58.0 L196.6,58.0 L198.0,58.0 L199.3,58.0 L200.6,58.0 L202.0,58.0 L203.3,58.0 L204.6,58.1 L206.0,58.1 L207.3,58.1 L208.6,58.2 L209.9,58.2 L211.3,58.3 L212.6,58.4 L213.9,58.5 L215.2,58.5 L216.6,58.6 L217.9,58.7 L219.2,58.8 L220.6,58.9 L221.9,59.0 L223.2,59.1 L224.5,59.2 L225.9,59.3 L227.2,59.4 L228.5,59.5 L229.8,59.6 L231.2,59.7 L232.5,59.8 L233.8,59.9 L235.1,59.9 L236.5,60.0 L237.8,60.0 L239.1,60.1 L240.5,60.1 L241.8,60.2 L243.1,60.2 L244.4,60.2 L245.8,60.3 L247.1,60.3 L248.4,60.4 L249.8,60.4 L251.1,60.4 L252.4,60.5 L253.7,60.5 L255.1,60.5 L256.4,60.6 L257.7,60.6 L259.1,60.6 L260.4,60.6 L261.7,60.7 L263.0,60.7 L264.4,60.7 L265.7,60.8 L267.0,60.8 L268.4,60.8 L269.7,60.8 L271.0,60.9 L272.4,60.9 L273.7,60.9 L275.0,61.0 L276.3,61.0 L277.7,61.0 L279.0,61.1 L280.3,61.1 L281.7,61.1 L283.0,61.2 L284.3,61.2 L285.6,61.2 L287.0,61.3 L288.3,61.3 L289.6,61.3 L291.0,61.4 L292.3,61.4 L293.6,61.4 L295.0,61.5 L296.3,61.5 L297.6,61.6 L298.9,61.6 L300.3,61.7 L301.6,61.8 L302.9,61.9 L304.2,62.1 L305.6,62.2 L306.9,62.4 L308.2,62.6 L309.5,62.8 L310.8,63.1 L312.1,63.3 L313.4,63.6 L314.7,64.0 L316.0,64.4 L317.3,64.8 L318.5,65.3 L319.7,65.8 L320.8,66.5 L322.0,67.2 L323.0,68.0 L324.1,68.8 L325.1,69.7 L326.1,70.5 L327.0,71.5 L328.0,72.5 L328.9,73.4 L329.7,74.4 L330.6,75.4 L331.5,76.5 L332.3,77.5 L333.1,78.6 L333.9,79.6 L334.6,80.7 L335.4,81.8 L336.1,82.9 L336.9,84.0 L337.6,85.1 L338.4,86.3 L339.0,87.4 L339.7,88.6 L340.3,89.7 L340.9,90.9 L341.4,92.2 L342.0,93.4 L342.4,94.7 L342.8,95.9 L343.1,97.2 L343.4,98.5 L343.6,99.8 L343.9,101.1 L344.1,102.4 L344.3,103.7 L344.5,105.0 L344.7,106.3 L344.8,107.7 L345.0,109.0 L345.1,110.3 L345.2,111.7 L345.3,113.0 L345.4,114.3 L345.5,115.6 L345.6,117.0 L345.7,118.3 L345.8,119.6 L345.8,121.0 L345.9,122.3 L345.9,123.6 L346.0,125.0 L346.0,126.3 L346.1,127.6 L346.1,129.0 L346.2,130.3 L346.3,131.6 L346.3,132.9 L346.4,134.2 L346.6,135.5 L346.7,136.9 L347.0,138.2 L347.2,139.4 L347.6,140.7 L347.9,142.0 L348.3,143.3 L348.6,144.6 L349.0,145.9 L349.3,147.2 L349.7,148.5 L350.0,149.8 L350.2,151.1 L350.5,152.4 L350.7,153.7 L351.0,155.0 L351.2,156.3 L351.5,157.6 L351.7,158.9 L351.9,160.2 L352.2,161.5 L352.4,162.9 L352.6,164.2 L352.8,165.5 L352.9,166.8 L353.1,168.1 L353.2,169.5 L353.4,170.8 L353.6,172.1 L353.7,173.4 L353.9,174.7 L354.2,176.0 L354.5,177.3 L354.9,178.5 L355.4,179.8 L355.8,181.0 L356.3,182.3 L356.8,183.5 L357.4,184.7 L357.9,186.0 L358.4,187.2 L358.9,188.5 L359.4,189.7 L359.8,191.0 L360.3,192.2 L360.7,193.5 L361.1,194.7 L361.6,196.0 L362.0,197.2 L362.5,198.5 L362.9,199.7 L363.4,201.0 L363.9,202.2 L364.3,203.5 L364.8,204.7 L365.4,205.9 L365.9,207.2 L366.4,208.4 L366.9,209.6 L367.3,210.9 L367.8,212.1 L368.3,213.3 L368.7,214.6 L369.1,215.9 L369.5,217.1 L369.9,218.4 L370.3,219.6 L370.7,220.9 L371.1,222.2 L371.5,223.5 L371.9,224.7 L372.3,226.0 L372.6,227.3 L373.0,228.6 L373.3,229.9 L373.7,231.1 L374.0,232.4 L374.4,233.7 L374.7,235.0 L375.0,236.3 L375.3,237.6 L375.7,238.9 L376.0,240.2 L376.3,241.5 L376.6,242.8 L376.9,244.0 L377.2,245.3 L377.5,246.6 L377.8,247.9 L378.1,249.2 L378.3,250.5 L378.6,251.8 L378.9,253.1 L379.2,254.4 L379.4,255.7 L379.7,257.0 L380.0,258.3 L380.2,259.6 L380.5,261.0 L380.7,262.3 L381.0,263.6 L381.3,264.9 L381.5,266.2 L381.8,267.5 L382.1,268.8 L382.3,270.1 L382.6,271.4 L382.8,272.7 L383.1,274.0 L383.3,275.3 L383.6,276.6 L383.9,277.9 L384.1,279.2 L384.4,280.5 L384.7,281.8 L385.0,283.1 L385.4,284.4 L385.7,285.6 L386.1,286.9 L386.5,288.2 L386.9,289.5 L387.2,290.8 L387.5,292.1 L387.8,293.3 L388.1,294.6 L388.4,295.9 L388.6,297.2 L388.9,298.5 L389.2,299.8 L389.5,301.1 L389.8,302.4 L390.1,303.7 L390.4,305.0 L390.8,306.3 L391.1,307.6 L391.4,308.9 L391.7,310.2 L392.1,311.5 L392.4,312.8 L392.7,314.0 L393.0,315.3 L393.3,316.6 L393.6,317.9 L393.9,319.2 L394.2,320.5 L394.6,321.8 L394.9,323.1 L395.3,324.4 L395.7,325.6 L396.1,326.9 L396.5,328.2 L397.0,329.4 L397.5,330.6 L398.0,331.9 L398.6,333.1 L399.3,334.2 L400.0,335.3 L400.8,336.3 L401.7,337.4 L402.6,338.4 L403.5,339.3 L404.5,340.2 L405.5,341.1 L406.5,341.9 L407.6,342.7 L408.7,343.4 L409.8,344.2 L411.0,344.8 L412.2,345.5 L413.3,346.1 L414.5,346.8 L415.7,347.4 L416.9,347.9 L418.1,348.5 L419.3,349.0 L420.5,349.5 L421.8,350.0 L423.0,350.5 L424.3,351.0 L425.5,351.5 L426.7,352.0 L427.9,352.6 L429.2,353.1 L430.4,353.6 L431.6,354.2 L432.8,354.7 L434.0,355.3" stroke-width="2.3" stroke-dasharray="2.6 2.6"/>
<path d="M116.2,48.6 L117.5,48.6 L118.8,48.6 L120.1,48.7 L121.4,48.7 L122.7,48.8 L124.0,48.9 L125.3,48.9 L126.6,49.0 L127.9,49.1 L129.1,49.2 L130.4,49.2 L131.7,49.4 L133.0,49.5 L134.3,49.6 L135.6,49.8 L136.9,50.0 L138.2,50.2 L139.4,50.3 L140.7,50.5 L142.0,50.7 L143.3,50.9 L144.6,51.1 L145.9,51.3 L147.1,51.5 L148.4,51.7 L149.7,51.8 L151.0,52.0 L152.3,52.1 L153.6,52.3 L154.9,52.4 L156.1,52.6 L157.4,52.8 L158.7,52.9 L160.0,53.1 L161.3,53.2 L162.6,53.4 L163.9,53.6 L165.1,53.7 L166.4,53.9 L167.7,54.1 L169.0,54.3 L170.3,54.5 L171.5,54.7 L172.8,54.9 L174.1,55.1 L175.4,55.4 L176.7,55.6 L177.9,55.7 L179.2,55.9 L180.5,56.2 L181.8,56.4 L183.1,56.5 L184.4,56.7 L185.7,56.8 L186.9,56.9 L188.2,56.9 L189.5,57.0 L190.8,57.0 L192.1,57.0 L193.4,57.0 L194.7,57.0 L196.0,57.1 L197.3,57.1 L198.6,57.1 L199.9,57.1 L201.2,57.1 L202.5,57.1 L203.8,57.2 L205.1,57.2 L206.4,57.2 L207.7,57.2 L209.0,57.3 L210.3,57.4 L211.6,57.4 L212.9,57.5 L214.1,57.6 L215.4,57.7 L216.7,57.7 L218.0,57.8 L219.3,57.9 L220.6,58.0 L221.9,58.1 L223.2,58.2 L224.5,58.3 L225.8,58.4 L227.1,58.5 L228.4,58.6 L229.7,58.7 L231.0,58.8 L232.3,58.9 L233.5,58.9 L234.8,59.0 L236.1,59.1 L237.4,59.1 L238.7,59.2 L240.0,59.2 L241.3,59.2 L242.6,59.3 L243.9,59.3 L245.2,59.4 L246.5,59.4 L247.8,59.4 L249.1,59.5 L250.4,59.5 L251.7,59.5 L253.0,59.6 L254.3,59.6 L255.6,59.6 L256.9,59.7 L258.2,59.7 L259.4,59.7 L260.7,59.7 L262.0,59.8 L263.3,59.8 L264.6,59.8 L265.9,59.9 L267.2,59.9 L268.5,59.9 L269.8,59.9 L271.1,60.0 L272.4,60.0 L273.7,60.0 L275.0,60.1 L276.3,60.1 L277.6,60.1 L278.9,60.2 L280.2,60.2 L281.5,60.2 L282.8,60.3 L284.1,60.3 L285.4,60.3 L286.7,60.4 L288.0,60.4 L289.3,60.4 L290.6,60.5 L291.9,60.5 L293.1,60.5 L294.4,60.6 L295.7,60.6 L297.0,60.7 L298.3,60.7 L299.6,60.8 L300.9,60.9 L302.2,61.0 L303.5,61.1 L304.8,61.2 L306.1,61.4 L307.4,61.6 L308.6,61.8 L309.9,62.0 L311.2,62.2 L312.5,62.5 L313.7,62.8 L315.0,63.1 L316.2,63.5 L317.5,64.0 L318.6,64.4 L319.8,65.0 L320.9,65.6 L322.0,66.4 L323.1,67.1 L324.1,67.9 L325.1,68.7 L326.1,69.6 L327.0,70.5 L328.0,71.4 L328.9,72.3 L329.8,73.2 L330.7,74.2 L331.5,75.2 L332.3,76.2 L333.1,77.2 L333.9,78.2 L334.7,79.3 L335.4,80.3 L336.2,81.4 L336.9,82.5 L337.7,83.5 L338.4,84.6 L339.1,85.7 L339.8,86.8 L340.4,87.9 L341.0,89.1 L341.6,90.2 L342.2,91.4 L342.7,92.6 L343.2,93.8 L343.7,95.0 L344.0,96.3 L344.3,97.5 L344.6,98.7 L344.8,100.0 L345.0,101.3 L345.2,102.6 L345.4,103.8 L345.6,105.1 L345.8,106.4 L345.9,107.7 L346.1,109.0 L346.2,110.3 L346.3,111.6 L346.4,112.9 L346.5,114.2 L346.6,115.5 L346.7,116.8 L346.8,118.1 L346.9,119.4 L346.9,120.7 L347.0,122.0 L347.0,123.3 L347.1,124.6 L347.1,125.9 L347.2,127.2 L347.2,128.5 L347.3,129.8 L347.3,131.1 L347.4,132.4 L347.5,133.6 L347.6,134.9 L347.7,136.2 L347.9,137.5 L348.2,138.7 L348.5,140.0 L348.8,141.3 L349.1,142.5 L349.5,143.8 L349.8,145.0 L350.2,146.3 L350.5,147.5 L350.8,148.8 L351.1,150.1 L351.4,151.3 L351.6,152.6 L351.9,153.9 L352.1,155.2 L352.4,156.4 L352.6,157.7 L352.8,159.0 L353.1,160.3 L353.3,161.5 L353.5,162.8 L353.7,164.1 L353.9,165.4 L354.0,166.7 L354.2,168.0 L354.3,169.3 L354.4,170.6 L354.5,171.9 L354.7,173.1 L354.9,174.4 L355.1,175.6 L355.4,176.9 L355.8,178.1 L356.3,179.3 L356.8,180.5 L357.3,181.7 L357.9,182.9 L358.4,184.1 L359.0,185.2 L359.6,186.4 L360.2,187.6 L360.8,188.8 L361.3,190.0 L361.8,191.2 L362.3,192.3 L362.8,193.5 L363.3,194.7 L363.8,195.9 L364.4,197.1 L364.9,198.3 L365.4,199.5 L365.9,200.7 L366.4,201.9 L366.9,203.1 L367.4,204.2 L368.0,205.4 L368.5,206.6 L369.0,207.8 L369.5,209.0 L370.0,210.2 L370.5,211.4 L371.0,212.6 L371.4,213.8 L371.9,215.0 L372.3,216.2 L372.8,217.5 L373.2,218.7 L373.6,219.9 L374.1,221.1 L374.5,222.4 L374.9,223.6 L375.3,224.8 L375.6,226.1 L376.0,227.3 L376.4,228.6 L376.7,229.8 L377.1,231.0 L377.4,232.3 L377.7,233.6 L378.0,234.8 L378.4,236.1 L378.7,237.3 L379.0,238.6 L379.3,239.9 L379.6,241.1 L379.9,242.4 L380.2,243.6 L380.5,244.9 L380.8,246.1 L381.1,247.4 L381.5,248.7 L381.8,249.9 L382.1,251.2 L382.4,252.4 L382.7,253.7 L383.0,255.0 L383.3,256.2 L383.6,257.5 L384.0,258.7 L384.3,260.0 L384.6,261.2 L384.9,262.5 L385.3,263.7 L385.6,265.0 L385.9,266.3 L386.2,267.5 L386.5,268.8 L386.9,270.0 L387.2,271.3 L387.5,272.5 L387.8,273.8 L388.1,275.0 L388.5,276.3 L388.8,277.6 L389.1,278.8 L389.4,280.1 L389.7,281.3 L390.0,282.6 L390.2,283.9 L390.5,285.1 L390.7,286.4 L391.0,287.7 L391.2,289.0 L391.4,290.2 L391.7,291.5 L391.9,292.8 L392.2,294.1 L392.5,295.3 L392.7,296.6 L393.0,297.9 L393.2,299.1 L393.5,300.4 L393.8,301.7 L394.1,302.9 L394.4,304.2 L394.7,305.4 L395.1,306.7 L395.4,308.0 L395.8,309.2 L396.1,310.5 L396.5,311.7 L397.0,312.9 L397.4,314.1 L397.9,315.3 L398.5,316.5 L399.0,317.7 L399.7,318.9 L400.3,320.0 L401.0,321.1 L401.7,322.1 L402.5,323.1 L403.3,324.1 L404.2,325.0 L405.2,325.9 L406.2,326.8 L407.2,327.6 L408.3,328.4 L409.4,329.1 L410.5,329.8 L411.6,330.4 L412.7,331.0 L413.9,331.6 L415.0,332.1 L416.3,332.6 L417.5,333.0 L418.7,333.5 L419.9,334.0 L421.2,334.4 L422.4,334.9 L423.6,335.3 L424.8,335.8 L426.0,336.2 L427.2,336.7 L428.5,337.1 L429.7,337.6 L430.9,338.0 L432.1,338.4 L433.4,338.8 L434.6,339.2" stroke-width="2.0" stroke-dasharray="2.0 2.2"/>
<path d="M76.3,247.7 H110.6" stroke-width="2.5"/>
<path d="M76.3,265.9 H108" stroke-width="2.5" stroke-dasharray="9.5 9.5"/>
<path d="M76,284.0 H101" stroke-width="2.5" stroke-dasharray="3 7.5"/>
<path d="M75.6,302.2 H111" stroke-width="2.5" stroke-dasharray="11 4.5 4 4.5"/>
<path d="M75.4,320.4 H111" stroke-width="2.5" stroke-dasharray="10 3.7 4 3.5 4 4.5"/>
<path d="M75.4,338.6 H107" stroke-width="2.5" stroke-dasharray="5.7 3"/>
<path d="M76,356.7 H107.8" stroke-width="2.5" stroke-dasharray="1.8 2.2"/>
<path d="M75.6,374.9 H111.4" stroke-width="2.5" stroke-dasharray="7 2.5 2.5 2.5"/>
</g>
<text class="leg" transform="translate(113.80,252.00) scale(1.1342,1)" font-size="12.5">(PVDF-HFP)-LITFSI</text>
<text class="leg" transform="translate(114.90,270.17) scale(1.1126,1)" font-size="12.5">PEO-LITFSI</text>
<text class="leg" transform="translate(110.20,288.34) scale(1.1353,1)" font-size="12.5">(PEO/(PVDF-HFP))-LITFSI-0 wt. % IL</text>
<text class="leg" transform="translate(114.40,306.51) scale(1.1334,1)" font-size="12.5">(PEO/(PVDF-HFP))-LITFSI-10 wt. % IL</text>
<text class="leg" transform="translate(114.00,324.68) scale(1.1353,1)" font-size="12.5">(PEO/(PVDF-HFP))-LITFSI-20 wt. % IL</text>
<text class="leg" transform="translate(115.60,342.85) scale(1.1276,1)" font-size="12.5">(PEO/(PVDF-HFP))-LITFSI-30 wt. % IL</text>
<text class="leg" transform="translate(115.60,361.02) scale(1.1276,1)" font-size="12.5">(PEO/(PVDF-HFP))-LITFSI-40 wt. % IL</text>
<text class="leg" transform="translate(114.60,379.19) scale(1.1324,1)" font-size="12.5">(PEO/(PVDF-HFP))-LITFSI-50 wt. % IL</text>
</svg></body></html>
